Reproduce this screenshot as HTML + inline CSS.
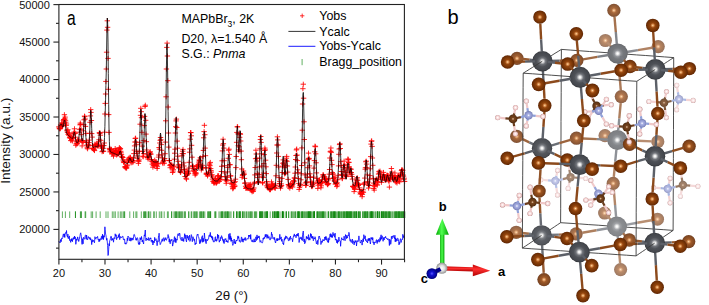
<!DOCTYPE html>
<html><head><meta charset="utf-8"><style>
html,body{margin:0;padding:0;background:#fff;width:709px;height:305px;overflow:hidden}
svg{display:block;font-family:"Liberation Sans",sans-serif}
</style></head><body>
<svg width="709" height="305" viewBox="0 0 709 305">
<rect width="709" height="305" fill="#fff"/>
<g fill="none" stroke-linecap="butt">
<path d="M62.4 211.4v6.6M65.4 211.4v6.6M69.7 211.4v6.6M75.4 211.4v6.6M75.5 211.4v6.6M80.4 211.4v6.6M81 211.4v6.6M81.4 211.4v6.6M85.1 211.4v6.6M85.7 211.4v6.6M91.2 211.4v6.6M92.6 211.4v6.6M96.1 211.4v6.6M100.2 211.4v6.6M106 211.4v6.6M108 211.4v6.6M112.3 211.4v6.6M113.9 211.4v6.6M115.3 211.4v6.6M118.1 211.4v6.6M120.3 211.4v6.6M121.8 211.4v6.6M123.3 211.4v6.6M124.3 211.4v6.6M124.7 211.4v6.6M129.8 211.4v6.6M133.6 211.4v6.6M135.9 211.4v6.6M136.9 211.4v6.6M141.3 211.4v6.6M143.5 211.4v6.6M144.6 211.4v6.6M144.9 211.4v6.6M145.4 211.4v6.6M146.1 211.4v6.6M148.1 211.4v6.6M148.7 211.4v6.6M149 211.4v6.6M150.7 211.4v6.6M153.8 211.4v6.6M154.2 211.4v6.6M156.3 211.4v6.6M159.3 211.4v6.6M161 211.4v6.6M161.8 211.4v6.6M164.2 211.4v6.6M167.4 211.4v6.6M168.3 211.4v6.6M171.5 211.4v6.6M171.8 211.4v6.6M174 211.4v6.6M175 211.4v6.6M175.5 211.4v6.6M176.4 211.4v6.6M176.7 211.4v6.6M177.8 211.4v6.6M178.7 211.4v6.6M179.5 211.4v6.6M180.1 211.4v6.6M180.9 211.4v6.6M181.8 211.4v6.6M182.3 211.4v6.6M184.1 211.4v6.6M184.8 211.4v6.6M185.4 211.4v6.6M188.7 211.4v6.6M188.8 211.4v6.6M191.2 211.4v6.6M191.8 211.4v6.6M193.8 211.4v6.6M194.3 211.4v6.6M195.1 211.4v6.6M195.9 211.4v6.6M196.7 211.4v6.6M197.2 211.4v6.6M199.4 211.4v6.6M200.6 211.4v6.6M201 211.4v6.6M201.4 211.4v6.6M202.3 211.4v6.6M203.3 211.4v6.6M203.6 211.4v6.6M204.8 211.4v6.6M207.7 211.4v6.6M208.2 211.4v6.6M208.7 211.4v6.6M209.6 211.4v6.6M210.2 211.4v6.6M210.3 211.4v6.6M210.7 211.4v6.6M214.7 211.4v6.6M215.7 211.4v6.6M215.8 211.4v6.6M219 211.4v6.6M220.3 211.4v6.6M221.7 211.4v6.6M221.8 211.4v6.6M222 211.4v6.6M222.8 211.4v6.6M223 211.4v6.6M224.5 211.4v6.6M225.9 211.4v6.6M225.9 211.4v6.6M226 211.4v6.6M227.4 211.4v6.6M227.7 211.4v6.6M227.9 211.4v6.6M228.6 211.4v6.6M229.8 211.4v6.6M231 211.4v6.6M233.6 211.4v6.6M233.7 211.4v6.6M236.5 211.4v6.6M236.7 211.4v6.6M237.1 211.4v6.6M238.1 211.4v6.6M239.3 211.4v6.6M239.8 211.4v6.6M239.9 211.4v6.6M240.1 211.4v6.6M240.7 211.4v6.6M242.7 211.4v6.6M242.8 211.4v6.6M242.9 211.4v6.6M244.1 211.4v6.6M245 211.4v6.6M246.4 211.4v6.6M247 211.4v6.6M248.4 211.4v6.6M249.4 211.4v6.6M250.8 211.4v6.6M250.8 211.4v6.6M251.3 211.4v6.6M252.7 211.4v6.6M254.5 211.4v6.6M255.3 211.4v6.6M255.9 211.4v6.6M256.7 211.4v6.6M259.5 211.4v6.6M259.6 211.4v6.6M260.4 211.4v6.6M260.6 211.4v6.6M261 211.4v6.6M261.3 211.4v6.6M261.8 211.4v6.6M262.1 211.4v6.6M262.8 211.4v6.6M262.8 211.4v6.6M264.6 211.4v6.6M265.6 211.4v6.6M266.1 211.4v6.6M266.7 211.4v6.6M266.9 211.4v6.6M267.1 211.4v6.6M267.4 211.4v6.6M267.6 211.4v6.6M270.2 211.4v6.6M272.6 211.4v6.6M272.8 211.4v6.6M273.9 211.4v6.6M274.4 211.4v6.6M274.7 211.4v6.6M275 211.4v6.6M275.3 211.4v6.6M276.3 211.4v6.6M276.8 211.4v6.6M277.2 211.4v6.6M277.2 211.4v6.6M277.6 211.4v6.6M278 211.4v6.6M278.1 211.4v6.6M278.5 211.4v6.6M278.7 211.4v6.6M280 211.4v6.6M282.2 211.4v6.6M282.3 211.4v6.6M282.5 211.4v6.6M282.5 211.4v6.6M282.8 211.4v6.6M283.6 211.4v6.6M283.7 211.4v6.6M285.9 211.4v6.6M286.4 211.4v6.6M286.5 211.4v6.6M288.7 211.4v6.6M288.7 211.4v6.6M291.1 211.4v6.6M291.8 211.4v6.6M292.1 211.4v6.6M293.3 211.4v6.6M294.4 211.4v6.6M295.6 211.4v6.6M295.8 211.4v6.6M297.8 211.4v6.6M297.8 211.4v6.6M298.2 211.4v6.6M298.2 211.4v6.6M298.8 211.4v6.6M298.9 211.4v6.6M299.5 211.4v6.6M300.1 211.4v6.6M301.5 211.4v6.6M301.7 211.4v6.6M302.6 211.4v6.6M302.7 211.4v6.6M303 211.4v6.6M304 211.4v6.6M304.7 211.4v6.6M305.6 211.4v6.6M306.7 211.4v6.6M307.1 211.4v6.6M307.9 211.4v6.6M308.2 211.4v6.6M308.5 211.4v6.6M308.8 211.4v6.6M309.2 211.4v6.6M309.6 211.4v6.6M309.8 211.4v6.6M310.2 211.4v6.6M310.7 211.4v6.6M311 211.4v6.6M311.1 211.4v6.6M312.8 211.4v6.6M313.4 211.4v6.6M314 211.4v6.6M314.1 211.4v6.6M314.3 211.4v6.6M314.4 211.4v6.6M314.5 211.4v6.6M316.8 211.4v6.6M317.2 211.4v6.6M317.6 211.4v6.6M317.9 211.4v6.6M318.6 211.4v6.6M319.8 211.4v6.6M319.9 211.4v6.6M320.3 211.4v6.6M321.4 211.4v6.6M321.9 211.4v6.6M322.4 211.4v6.6M322.5 211.4v6.6M323.7 211.4v6.6M323.7 211.4v6.6M323.8 211.4v6.6M324.9 211.4v6.6M325.9 211.4v6.6M328.1 211.4v6.6M328.3 211.4v6.6M328.6 211.4v6.6M330.3 211.4v6.6M330.9 211.4v6.6M331.4 211.4v6.6M331.7 211.4v6.6M332.9 211.4v6.6M333.2 211.4v6.6M333.2 211.4v6.6M333.3 211.4v6.6M334.6 211.4v6.6M334.6 211.4v6.6M335 211.4v6.6M335.1 211.4v6.6M335.2 211.4v6.6M336.6 211.4v6.6M337.9 211.4v6.6M338.2 211.4v6.6M338.4 211.4v6.6M339.1 211.4v6.6M339.3 211.4v6.6M339.9 211.4v6.6M340.7 211.4v6.6M341.6 211.4v6.6M342 211.4v6.6M343 211.4v6.6M343.4 211.4v6.6M344 211.4v6.6M344.4 211.4v6.6M344.8 211.4v6.6M345.8 211.4v6.6M346.2 211.4v6.6M346.3 211.4v6.6M346.9 211.4v6.6M347.1 211.4v6.6M347.5 211.4v6.6M348.1 211.4v6.6M348.2 211.4v6.6M348.7 211.4v6.6M349.3 211.4v6.6M349.6 211.4v6.6M350 211.4v6.6M350.6 211.4v6.6M350.9 211.4v6.6M351.2 211.4v6.6M351.2 211.4v6.6M351.9 211.4v6.6M353.1 211.4v6.6M353.2 211.4v6.6M354.3 211.4v6.6M354.8 211.4v6.6M354.9 211.4v6.6M356 211.4v6.6M356.2 211.4v6.6M356.3 211.4v6.6M356.4 211.4v6.6M357.9 211.4v6.6M358.6 211.4v6.6M358.6 211.4v6.6M359.4 211.4v6.6M359.8 211.4v6.6M360.5 211.4v6.6M362.8 211.4v6.6M363 211.4v6.6M363.1 211.4v6.6M364.6 211.4v6.6M364.8 211.4v6.6M365.2 211.4v6.6M365.3 211.4v6.6M366 211.4v6.6M366.9 211.4v6.6M367.1 211.4v6.6M367.2 211.4v6.6M367.7 211.4v6.6M368.9 211.4v6.6M369.8 211.4v6.6M370.5 211.4v6.6M371 211.4v6.6M371 211.4v6.6M371.5 211.4v6.6M371.9 211.4v6.6M371.9 211.4v6.6M372 211.4v6.6M372.8 211.4v6.6M372.9 211.4v6.6M373.9 211.4v6.6M375.2 211.4v6.6M375.9 211.4v6.6M377.2 211.4v6.6M377.6 211.4v6.6M377.6 211.4v6.6M377.8 211.4v6.6M378.1 211.4v6.6M379.5 211.4v6.6M379.5 211.4v6.6M381.1 211.4v6.6M381.5 211.4v6.6M381.6 211.4v6.6M382 211.4v6.6M382.8 211.4v6.6M383.1 211.4v6.6M383.2 211.4v6.6M383.2 211.4v6.6M384.1 211.4v6.6M384.8 211.4v6.6M385.2 211.4v6.6M385.4 211.4v6.6M386.2 211.4v6.6M386.6 211.4v6.6M387 211.4v6.6M387.8 211.4v6.6M388.4 211.4v6.6M389 211.4v6.6M389.2 211.4v6.6M389.4 211.4v6.6M390.1 211.4v6.6M390.6 211.4v6.6M392 211.4v6.6M392.2 211.4v6.6M394 211.4v6.6M394.2 211.4v6.6M395 211.4v6.6M395.6 211.4v6.6M396 211.4v6.6M396.2 211.4v6.6M396.9 211.4v6.6M397.2 211.4v6.6M397.2 211.4v6.6M398.7 211.4v6.6M398.8 211.4v6.6M398.9 211.4v6.6M399 211.4v6.6M399.4 211.4v6.6M400 211.4v6.6M400.6 211.4v6.6M401.3 211.4v6.6M401.7 211.4v6.6M402.2 211.4v6.6M402.9 211.4v6.6M402.9 211.4v6.6M403.5 211.4v6.6M404 211.4v6.6M404.2 211.4v6.6M404.9 211.4v6.6" stroke="#008000" stroke-width="1" stroke-opacity="0.62"/>
<path d="M58.9 241 59.2 241.9 59.6 242.6 59.9 242.1 60.3 242.6 60.6 239.5 61 241.3 61.3 241.7 61.7 238 62 238.1 62.4 238.6 62.7 237.7 63 235.2 63.4 233.9 63.7 234.9 64.1 237.1 64.4 233.8 64.8 237.5 65.1 233.6 65.5 233.6 65.8 232.4 66.2 233.3 66.5 230.5 66.9 235.7 67.2 236.2 67.5 237.2 67.9 234.1 68.2 238.4 68.6 237.5 68.9 238.6 69.3 235.9 69.6 240.5 70 239.6 70.3 240.3 70.7 242.4 71 239.5 71.3 238.9 71.7 240.9 72 238.4 72.4 241.7 72.7 239.7 73.1 239.5 73.4 237.5 73.8 239.3 74.1 239 74.5 236 74.8 238.8 75.1 236.9 75.5 238.3 75.8 244.3 76.2 241.5 76.5 238.9 76.9 240.4 77.2 239.9 77.6 236.9 77.9 238.7 78.3 239.1 78.6 241.4 78.9 241.4 79.3 237.7 79.6 238.3 80 235.8 80.3 233.9 80.7 232.8 81 234.3 81.4 236.7 81.7 240.9 82.1 244.4 82.4 238.7 82.8 240.9 83.1 243.8 83.4 237.2 83.8 237.7 84.1 239.2 84.5 239.1 84.8 238.5 85.2 235.4 85.5 235.2 85.9 235.2 86.2 239.3 86.6 235 86.9 237.6 87.2 239.5 87.6 240 87.9 238.2 88.3 236.5 88.6 237.4 89 237 89.3 238.8 89.7 239.1 90 237.4 90.4 239.9 90.7 238.5 91 239.9 91.4 240.9 91.7 244.6 92.1 239.5 92.4 242.1 92.8 241.7 93.1 240 93.5 240.9 93.8 241.1 94.2 242 94.5 242.8 94.9 236.7 95.2 237.5 95.5 238.6 95.9 239.2 96.2 237.2 96.6 237.6 96.9 237.6 97.3 237.5 97.6 236.4 98 239.3 98.3 240 98.7 239.4 99 241.8 99.3 238.9 99.7 241.2 100 240.2 100.4 238.7 100.7 238.8 101.1 239.7 101.4 236.3 101.8 236.5 102.1 239.3 102.5 234.2 102.8 238.3 103.1 235.9 103.5 239.6 103.8 235.6 104.2 237.2 104.5 233.9 104.9 226.8 105.2 229.7 105.6 234.1 105.9 235.1 106.3 237.9 106.6 240.2 106.9 238.3 107.3 242 107.6 245.4 108 255.5 108.3 255 108.7 249.1 109 243.6 109.4 245.9 109.7 240.6 110.1 240.2 110.4 238.6 110.8 236.3 111.1 236.3 111.4 236.5 111.8 240.6 112.1 239.1 112.5 240 112.8 238.2 113.2 239.4 113.5 242.2 113.9 238.8 114.2 237.5 114.6 238.4 114.9 238.8 115.2 233.8 115.6 236.3 115.9 235.4 116.3 234.8 116.6 239.7 117 238.4 117.3 238 117.7 237.4 118 238 118.4 235.3 118.7 237 119 233.9 119.4 233.7 119.7 239.6 120.1 237.4 120.4 236.5 120.8 237.9 121.1 237.5 121.5 237.2 121.8 237.6 122.2 236.7 122.5 236.2 122.8 236 123.2 238.1 123.5 239.7 123.9 240.1 124.2 239 124.6 239 124.9 243.6 125.3 244.1 125.6 242.8 126 244.2 126.3 243.6 126.7 243.3 127 241.2 127.3 237.9 127.7 240.7 128 236.1 128.4 237.1 128.7 236.9 129.1 237.3 129.4 240.2 129.8 240.9 130.1 238.2 130.5 238 130.8 241.2 131.1 237.8 131.5 238.3 131.8 240.3 132.2 238.1 132.5 238.1 132.9 240.1 133.2 239.2 133.6 236.9 133.9 234.6 134.3 234.4 134.6 235 134.9 236.5 135.3 237.2 135.6 238.3 136 240.2 136.3 238.5 136.7 240.3 137 237.8 137.4 237.7 137.7 238.6 138.1 240.5 138.4 243.7 138.8 243.1 139.1 244.9 139.4 242.4 139.8 243.9 140.1 237.6 140.5 239.6 140.8 238.3 141.2 239.5 141.5 236.5 141.9 239.1 142.2 242 142.6 240 142.9 241.5 143.2 242.7 143.6 244 143.9 239.3 144.3 234.9 144.6 236.1 145 232.2 145.3 230 145.7 237.7 146 240.8 146.4 238.2 146.7 239 147 238.8 147.4 239.8 147.7 238.9 148.1 240.2 148.4 237.5 148.8 238.8 149.1 240.7 149.5 239.3 149.8 238.5 150.2 237.8 150.5 239 150.8 237.9 151.2 241.5 151.5 240.1 151.9 240.6 152.2 242.6 152.6 240.2 152.9 245 153.3 242.7 153.6 241.1 154 242.9 154.3 242.6 154.7 237.4 155 240.8 155.3 240 155.7 239.6 156 238.7 156.4 240.9 156.7 242.6 157.1 245.7 157.4 243.9 157.8 240.7 158.1 241.7 158.5 236.1 158.8 236.4 159.1 233.2 159.5 241.1 159.8 241.8 160.2 244.6 160.5 243.7 160.9 243.5 161.2 242.3 161.6 241.1 161.9 239.8 162.3 238.8 162.6 241.2 162.9 241.3 163.3 238.7 163.6 237.9 164 237.5 164.3 241.3 164.7 238.8 165 239.6 165.4 239.4 165.7 237.6 166.1 240.1 166.4 240.3 166.8 238.9 167.1 238.6 167.4 237.7 167.8 236.5 168.1 234.5 168.5 237.5 168.8 236.7 169.2 242.1 169.5 238.8 169.9 242.1 170.2 243.8 170.6 240.6 170.9 239.7 171.2 240.8 171.6 240 171.9 239.2 172.3 242.2 172.6 246.1 173 244.4 173.3 242.8 173.7 240.2 174 240.6 174.4 236.7 174.7 236.7 175 242.2 175.4 237.9 175.7 242.5 176.1 242.7 176.4 239.3 176.8 239 177.1 240.2 177.5 235.2 177.8 234.1 178.2 233.6 178.5 234.1 178.8 235.8 179.2 234.7 179.5 233 179.9 233.9 180.2 238 180.6 239.2 180.9 239.3 181.3 240.6 181.6 240.2 182 237.1 182.3 240.4 182.7 241.1 183 238.8 183.3 238.7 183.7 241.5 184 238.2 184.4 236.3 184.7 233.7 185.1 238.7 185.4 235.2 185.8 235.2 186.1 240.7 186.5 241.9 186.8 238.4 187.1 235 187.5 238.2 187.8 236.6 188.2 236.2 188.5 240.2 188.9 237.9 189.2 237.3 189.6 235.2 189.9 241.4 190.3 240.4 190.6 238.4 190.9 237.7 191.3 234.6 191.6 235.5 192 239.1 192.3 241.7 192.7 238.2 193 236.7 193.4 238.1 193.7 239.4 194.1 240.6 194.4 238.9 194.8 242.3 195.1 244.8 195.4 244 195.8 242.9 196.1 243.9 196.5 238 196.8 236.1 197.2 234.6 197.5 235.1 197.9 234 198.2 236.3 198.6 236.9 198.9 238 199.2 239.5 199.6 243.2 199.9 243.9 200.3 239.5 200.6 242.6 201 241 201.3 241.1 201.7 237 202 236.6 202.4 235.7 202.7 242.3 203 238.4 203.4 241.7 203.7 238.5 204.1 238.6 204.4 233 204.8 237.1 205.1 241.3 205.5 239 205.8 243.1 206.2 243.7 206.5 239.8 206.8 239.3 207.2 239.2 207.5 240.7 207.9 239.9 208.2 239.2 208.6 238.9 208.9 235.9 209.3 234.8 209.6 234.9 210 236.8 210.3 232.4 210.7 236.6 211 236.3 211.3 235.8 211.7 238.1 212 236 212.4 239.8 212.7 237.3 213.1 241.2 213.4 240.7 213.8 242.1 214.1 242.1 214.5 240.7 214.8 240.6 215.1 237.3 215.5 236.7 215.8 241.1 216.2 239.1 216.5 241.3 216.9 240.6 217.2 239.7 217.6 234.2 217.9 238.3 218.3 235.8 218.6 235 218.9 238.9 219.3 242.2 219.6 240.7 220 240.3 220.3 240.9 220.7 237.4 221 238.6 221.4 235.8 221.7 235.7 222.1 238.1 222.4 237.7 222.7 240.4 223.1 239.1 223.4 242.4 223.8 240.3 224.1 243.6 224.5 239.4 224.8 239.5 225.2 238.6 225.5 239.6 225.9 238.7 226.2 242 226.6 240.3 226.9 241 227.2 241.6 227.6 241 227.9 242.6 228.3 239.5 228.6 234.9 229 233.9 229.3 235.3 229.7 239.6 230 233.3 230.4 239.4 230.7 236.1 231 241.4 231.4 237.8 231.7 241.1 232.1 240 232.4 243.4 232.8 245.4 233.1 244.7 233.5 243.6 233.8 241 234.2 239 234.5 243.2 234.8 243.5 235.2 241.7 235.5 244 235.9 240.6 236.2 241.1 236.6 240 236.9 240.8 237.3 239.9 237.6 237.2 238 235.9 238.3 238.3 238.7 236.7 239 239 239.3 241.3 239.7 240.3 240 242.1 240.4 242.3 240.7 241.5 241.1 240.1 241.4 236.9 241.8 237.6 242.1 241.6 242.5 238.8 242.8 240.6 243.1 242.2 243.5 239.2 243.8 240 244.2 238.4 244.5 238.8 244.9 240.3 245.2 237.4 245.6 239.2 245.9 240.5 246.3 239.4 246.6 239.1 246.9 238.5 247.3 238.8 247.6 238.6 248 239.2 248.3 238.7 248.7 235 249 236.5 249.4 236.5 249.7 235 250.1 236.1 250.4 239 250.7 234.5 251.1 240.3 251.4 240.5 251.8 240.5 252.1 242 252.5 240.6 252.8 239.8 253.2 242.2 253.5 241.4 253.9 240.7 254.2 238.8 254.6 242.1 254.9 241.4 255.2 242 255.6 240.8 255.9 236.8 256.3 240.5 256.6 240 257 234.9 257.3 239.4 257.7 236.9 258 237.7 258.4 236.5 258.7 237.7 259 235.9 259.4 237.1 259.7 239.8 260.1 242.3 260.4 241.5 260.8 240.5 261.1 241.3 261.5 242.5 261.8 242.8 262.2 242.9 262.5 242.8 262.8 241.4 263.2 238 263.5 239.3 263.9 238 264.2 237.2 264.6 238.5 264.9 237 265.3 234.4 265.6 237 266 235 266.3 234.3 266.7 237.2 267 238.4 267.3 238.1 267.7 234.7 268 238 268.4 238.1 268.7 236.6 269.1 236.5 269.4 239.4 269.8 239.9 270.1 239.9 270.5 239.8 270.8 237.7 271.1 238.5 271.5 232.2 271.8 235.1 272.2 234.4 272.5 235.9 272.9 238.6 273.2 237.8 273.6 237.7 273.9 238.8 274.3 239.7 274.6 237.4 274.9 240.6 275.3 242.3 275.6 243 276 240.3 276.3 239.4 276.7 238.6 277 240.9 277.4 238.5 277.7 240.8 278.1 238.8 278.4 239.3 278.7 238.7 279.1 240.1 279.4 239.9 279.8 234.3 280.1 237.7 280.5 239.2 280.8 238 281.2 236.9 281.5 241.3 281.9 239.1 282.2 239.6 282.6 240.4 282.9 243.6 283.2 243 283.6 244.8 283.9 242 284.3 238.8 284.6 240.2 285 237.4 285.3 239.1 285.7 235.9 286 236.1 286.4 237.5 286.7 236.5 287 238.5 287.4 237.8 287.7 237.7 288.1 239.5 288.4 240.7 288.8 240.8 289.1 238.1 289.5 237.6 289.8 240.3 290.2 237.8 290.5 236.1 290.8 238.8 291.2 238.7 291.5 238.6 291.9 238.8 292.2 238.8 292.6 241.8 292.9 239.1 293.3 237.1 293.6 235.7 294 236.4 294.3 233.9 294.7 236.1 295 235.5 295.3 235.6 295.7 235.4 296 237.8 296.4 235.8 296.7 234.2 297.1 235.7 297.4 234.2 297.8 236.1 298.1 233 298.5 234.8 298.8 237.5 299.1 242.5 299.5 240.1 299.8 237.6 300.2 238.8 300.5 238.5 300.9 236.9 301.2 237 301.6 239.6 301.9 238.3 302.3 240.6 302.6 234.2 302.9 232.7 303.3 231 303.6 235.9 304 241.9 304.3 239 304.7 243.8 305 242.5 305.4 242.5 305.7 240.9 306.1 239.1 306.4 236.3 306.7 238.3 307.1 237 307.4 238.8 307.8 238.9 308.1 236.6 308.5 234.6 308.8 240.2 309.2 237.6 309.5 238.8 309.9 240.1 310.2 237.6 310.6 233.5 310.9 236.5 311.2 234.2 311.6 238.1 311.9 238.2 312.3 236.3 312.6 238.4 313 236.5 313.3 240.8 313.7 239.6 314 237.9 314.4 238.9 314.7 237.8 315 236.7 315.4 237.3 315.7 240 316.1 241.7 316.4 243.9 316.8 242.8 317.1 240.9 317.5 240.4 317.8 244.6 318.2 241 318.5 238.7 318.8 236.3 319.2 236.7 319.5 236.1 319.9 238.9 320.2 238.6 320.6 240.5 320.9 244.5 321.3 243.1 321.6 241.1 322 241.2 322.3 242.4 322.7 240 323 239.3 323.3 240 323.7 241 324 240.6 324.4 240.6 324.7 237.1 325.1 238.3 325.4 236.7 325.8 239.9 326.1 236.5 326.5 239.5 326.8 239 327.1 241 327.5 241.6 327.8 242.3 328.2 237.8 328.5 242.5 328.9 239.5 329.2 239 329.6 239.5 329.9 234.2 330.3 233.8 330.6 236.8 330.9 233.8 331.3 234.9 331.6 237.3 332 235.2 332.3 237.6 332.7 235.3 333 232.4 333.4 235.5 333.7 235.2 334.1 234.1 334.4 237 334.7 237.3 335.1 233.1 335.4 240.2 335.8 239.1 336.1 239.4 336.5 239.3 336.8 242.8 337.2 239.8 337.5 243.4 337.9 241.2 338.2 242 338.6 240 338.9 237.1 339.2 240 339.6 240.8 339.9 240.6 340.3 240.9 340.6 246.3 341 241.4 341.3 239.7 341.7 237.7 342 239 342.4 240 342.7 239.3 343 239.3 343.4 239.4 343.7 240.3 344.1 236.2 344.4 238.4 344.8 238.7 345.1 240.7 345.5 234.6 345.8 236.1 346.2 235.2 346.5 238.6 346.8 236.4 347.2 237.7 347.5 238.1 347.9 235 348.2 235.1 348.6 235.7 348.9 232.3 349.3 234 349.6 237.9 350 240.9 350.3 241.4 350.6 239.5 351 240.5 351.3 242.5 351.7 241.5 352 240.1 352.4 239 352.7 243.6 353.1 241.5 353.4 240.9 353.8 240.9 354.1 244.9 354.5 242 354.8 243 355.1 240.6 355.5 241.9 355.8 240.7 356.2 241.1 356.5 246 356.9 242.3 357.2 240.5 357.6 241.4 357.9 241.9 358.3 241.2 358.6 237.9 358.9 235.9 359.3 238.3 359.6 239.3 360 241.5 360.3 243.1 360.7 242.1 361 241.6 361.4 240 361.7 241.6 362.1 245.1 362.4 242.9 362.7 240.5 363.1 238.7 363.4 241.7 363.8 234.7 364.1 236.2 364.5 238.6 364.8 238.7 365.2 235.8 365.5 240.5 365.9 239.2 366.2 240.3 366.6 241.6 366.9 240.7 367.2 241.9 367.6 242.9 367.9 238.9 368.3 238.7 368.6 240.7 369 238.2 369.3 240.5 369.7 238.4 370 241.8 370.4 244 370.7 241.6 371 237.5 371.4 239.1 371.7 237.9 372.1 237.4 372.4 240 372.8 237.7 373.1 242.8 373.5 241.9 373.8 244.3 374.2 244.9 374.5 242 374.8 242.2 375.2 242.8 375.5 242.1 375.9 242.1 376.2 240.1 376.6 239.6 376.9 243.3 377.3 243.4 377.6 240.3 378 241.8 378.3 241.1 378.6 239.5 379 239.3 379.3 242.2 379.7 241.7 380 237.6 380.4 240.5 380.7 236.8 381.1 234.8 381.4 239.3 381.8 236.8 382.1 235.8 382.5 236.5 382.8 239.2 383.1 241.3 383.5 237.6 383.8 239.2 384.2 240 384.5 237.7 384.9 237.1 385.2 238.1 385.6 236.4 385.9 237.5 386.3 238.1 386.6 238.7 386.9 238.3 387.3 239.2 387.6 239.6 388 238.6 388.3 240.1 388.7 240.1 389 240.3 389.4 245.5 389.7 239 390.1 240.7 390.4 240.4 390.7 244.3 391.1 242.2 391.4 236.3 391.8 238 392.1 238.8 392.5 236.2 392.8 236.8 393.2 235.4 393.5 235.7 393.9 237.4 394.2 237 394.6 238.7 394.9 235.2 395.2 241.7 395.6 237.9 395.9 241.7 396.3 239.1 396.6 239.1 397 241 397.3 238.2 397.7 238.2 398 238.5 398.4 239.8 398.7 241.8 399 244.9 399.4 242.5 399.7 243.7 400.1 240.4 400.4 238.8 400.8 238.7 401.1 242.5 401.5 240.4 401.8 239.8 402.2 239.1 402.5 239.5 402.8 234.3 403.2 236.5 403.5 235.8 403.9 238.1 404.2 235.9 404.6 239" stroke="#0000ff" stroke-width="0.8"/>
<path d="M56.2 126.8h5.4M58.9 124.3v5M56.5 128h5.4M59.2 125.5v5M56.9 128.9h5.4M59.6 126.4v5M57.2 128.5h5.4M59.9 126v5M57.6 128.7h5.4M60.3 126.2v5M57.9 125.1h5.4M60.6 122.6v5M58.3 126.2h5.4M61 123.7v5M58.6 126.4h5.4M61.3 123.9v5M59 123h5.4M61.7 120.5v5M59.3 124.1h5.4M62 121.6v5M59.7 125.8h5.4M62.4 123.3v5M60 125.8h5.4M62.7 123.3v5M60.3 123.3h5.4M63 120.8v5M60.7 120.7h5.4M63.4 118.2v5M61 119.6h5.4M63.7 117.1v5M61.4 119.4h5.4M64.1 116.9v5M61.7 114.7h5.4M64.4 112.2v5M62.1 118.8h5.4M64.8 116.3v5M62.4 117.1h5.4M65.1 114.6v5M62.8 120.3h5.4M65.5 117.8v5M63.1 122.2h5.4M65.8 119.7v5M63.5 125.4h5.4M66.2 122.9v5M63.8 124h5.4M66.5 121.5v5M64.2 130.1h5.4M66.9 127.6v5M64.5 131h5.4M67.2 128.5v5M64.8 132.5h5.4M67.5 130v5M65.2 129.8h5.4M67.9 127.3v5M65.5 134.4h5.4M68.2 131.9v5M65.9 133.8h5.4M68.6 131.3v5M66.2 135.3h5.4M68.9 132.8v5M66.6 132.9h5.4M69.3 130.4v5M66.9 137.7h5.4M69.6 135.2v5M67.3 137.1h5.4M70 134.6v5M67.6 138.1h5.4M70.3 135.6v5M68 140.6h5.4M70.7 138.1v5M68.3 137.9h5.4M71 135.4v5M68.6 137.6h5.4M71.3 135.1v5M69 140h5.4M71.7 137.5v5M69.3 137.7h5.4M72 135.2v5M69.7 141h5.4M72.4 138.5v5M70 138.6h5.4M72.7 136.1v5M70.4 137.6h5.4M73.1 135.1v5M70.7 134h5.4M73.4 131.5v5M71.1 133.9h5.4M73.8 131.4v5M71.4 132.1h5.4M74.1 129.6v5M71.8 128.8h5.4M74.5 126.3v5M72.1 133h5.4M74.8 130.5v5M72.4 133.4h5.4M75.1 130.9v5M72.8 137.2h5.4M75.5 134.7v5M73.1 145.3h5.4M75.8 142.8v5M73.5 143.8h5.4M76.2 141.3v5M73.8 142h5.4M76.5 139.5v5M74.2 144h5.4M76.9 141.5v5M74.5 143.6h5.4M77.2 141.1v5M74.9 140.3h5.4M77.6 137.8v5M75.2 141.7h5.4M77.9 139.2v5M75.6 141.3h5.4M78.3 138.8v5M75.9 142h5.4M78.6 139.5v5M76.2 139.3h5.4M78.9 136.8v5M76.6 132.2h5.4M79.3 129.7v5M76.9 129.3h5.4M79.6 126.8v5M77.3 124.8h5.4M80 122.3v5M77.6 123.1h5.4M80.3 120.6v5M78 124.4h5.4M80.7 121.9v5M78.3 129.1h5.4M81 126.6v5M78.7 134.6h5.4M81.4 132.1v5M79 141h5.4M81.7 138.5v5M79.4 145.9h5.4M82.1 143.4v5M79.7 140.5h5.4M82.4 138v5M80.1 141.9h5.4M82.8 139.4v5M80.4 142.2h5.4M83.1 139.7v5M80.7 130.8h5.4M83.4 128.3v5M81.1 124.7h5.4M83.8 122.2v5M81.4 119.8h5.4M84.1 117.3v5M81.8 116.1h5.4M84.5 113.6v5M82.1 116.7h5.4M84.8 114.2v5M82.5 119h5.4M85.2 116.5v5M82.8 126.4h5.4M85.5 123.9v5M83.2 133.4h5.4M85.9 130.9v5M83.5 142.5h5.4M86.2 140v5M83.9 141h5.4M86.6 138.5v5M84.2 145.2h5.4M86.9 142.7v5M84.5 147.9h5.4M87.2 145.4v5M84.9 148.8h5.4M87.6 146.3v5M85.2 146.9h5.4M87.9 144.4v5M85.6 145h5.4M88.3 142.5v5M85.9 145.1h5.4M88.6 142.6v5M86.3 142.6h5.4M89 140.1v5M86.6 140.1h5.4M89.3 137.6v5M87 133.3h5.4M89.7 130.8v5M87.3 122.3h5.4M90 119.8v5M87.7 115.9h5.4M90.4 113.4v5M88 109.6h5.4M90.7 107.1v5M88.3 112.4h5.4M91 109.9v5M88.7 120.5h5.4M91.4 118v5M89 133.6h5.4M91.7 131.1v5M89.4 137.1h5.4M92.1 134.6v5M89.7 145.6h5.4M92.4 143.1v5M90.1 148.5h5.4M92.8 146v5M90.4 148.1h5.4M93.1 145.6v5M90.8 149.2h5.4M93.5 146.7v5M91.1 149.3h5.4M93.8 146.8v5M91.5 150h5.4M94.2 147.5v5M91.8 150.6h5.4M94.5 148.1v5M92.2 144.2h5.4M94.9 141.7v5M92.5 144.8h5.4M95.2 142.3v5M92.8 145.8h5.4M95.5 143.3v5M93.2 146.1h5.4M95.9 143.6v5M93.5 144.2h5.4M96.2 141.7v5M93.9 145h5.4M96.6 142.5v5M94.2 145.3h5.4M96.9 142.8v5M94.6 145.4h5.4M97.3 142.9v5M94.9 144.2h5.4M97.6 141.7v5M95.3 146.5h5.4M98 144v5M95.6 145.5h5.4M98.3 143v5M96 141.7h5.4M98.7 139.2v5M96.3 139.8h5.4M99 137.3v5M96.6 132.9h5.4M99.3 130.4v5M97 133.1h5.4M99.7 130.6v5M97.3 133h5.4M100 130.5v5M97.7 135.2h5.4M100.4 132.7v5M98 140.3h5.4M100.7 137.8v5M98.4 145.8h5.4M101.1 143.3v5M98.7 145.7h5.4M101.4 143.2v5M99.1 148h5.4M101.8 145.5v5M99.4 151.7h5.4M102.1 149.2v5M99.8 146.9h5.4M102.5 144.4v5M100.1 151h5.4M102.8 148.5v5M100.4 148.4h5.4M103.1 145.9v5M100.8 151.4h5.4M103.5 148.9v5M101.1 145.5h5.4M103.8 143v5M101.5 143h5.4M104.2 140.5v5M101.8 132.2h5.4M104.5 129.7v5M102.2 114h5.4M104.9 111.5v5M102.5 103.4h5.4M105.2 100.9v5M102.9 94h5.4M105.6 91.5v5M103.2 81.4h5.4M105.9 78.9v5M103.6 69h5.4M106.3 66.5v5M103.9 52.2h5.4M106.6 49.7v5M104.2 30.1h5.4M106.9 27.6v5M104.6 20.8h5.4M107.3 18.3v5M104.9 27.3h5.4M107.6 24.8v5M105.3 58.4h5.4M108 55.9v5M105.6 89.3h5.4M108.3 86.8v5M106 114.6h5.4M108.7 112.1v5M106.3 132.4h5.4M109 129.9v5M106.7 148.4h5.4M109.4 145.9v5M107 149.7h5.4M109.7 147.2v5M107.4 151.9h5.4M110.1 149.4v5M107.7 151.1h5.4M110.4 148.6v5M108.1 149.1h5.4M110.8 146.6v5M108.4 149.3h5.4M111.1 146.8v5M108.7 149.7h5.4M111.4 147.2v5M109.1 153.9h5.4M111.8 151.4v5M109.4 152.6h5.4M112.1 150.1v5M109.8 153.6h5.4M112.5 151.1v5M110.1 151.9h5.4M112.8 149.4v5M110.5 153.3h5.4M113.2 150.8v5M110.8 156.2h5.4M113.5 153.7v5M111.2 152.9h5.4M113.9 150.4v5M111.5 151.8h5.4M114.2 149.3v5M111.9 152.8h5.4M114.6 150.3v5M112.2 153.4h5.4M114.9 150.9v5M112.5 148.5h5.4M115.2 146v5M112.9 151.2h5.4M115.6 148.7v5M113.2 150.5h5.4M115.9 148v5M113.6 150h5.4M116.3 147.5v5M113.9 155h5.4M116.6 152.5v5M114.3 154h5.4M117 151.5v5M114.6 153.7h5.4M117.3 151.2v5M115 153.3h5.4M117.7 150.8v5M115.3 154.2h5.4M118 151.7v5M115.7 151.5h5.4M118.4 149v5M116 152.9h5.4M118.7 150.4v5M116.3 149.1h5.4M119 146.6v5M116.7 147.6h5.4M119.4 145.1v5M117 152.2h5.4M119.7 149.7v5M117.4 149.2h5.4M120.1 146.7v5M117.7 148.5h5.4M120.4 146v5M118.1 151.3h5.4M120.8 148.8v5M118.4 152.9h5.4M121.1 150.4v5M118.8 154.6h5.4M121.5 152.1v5M119.1 156.7h5.4M121.8 154.2v5M119.5 157h5.4M122.2 154.5v5M119.8 157.3h5.4M122.5 154.8v5M120.1 157.6h5.4M122.8 155.1v5M120.5 160.1h5.4M123.2 157.6v5M120.8 161.9h5.4M123.5 159.4v5M121.2 162.6h5.4M123.9 160.1v5M121.5 161.7h5.4M124.2 159.2v5M121.9 162h5.4M124.6 159.5v5M122.2 166.8h5.4M124.9 164.3v5M122.6 167.6h5.4M125.3 165.1v5M122.9 166.5h5.4M125.6 164v5M123.3 168.2h5.4M126 165.7v5M123.6 167.8h5.4M126.3 165.3v5M124 167.9h5.4M126.7 165.4v5M124.3 165.9h5.4M127 163.4v5M124.6 162.5h5.4M127.3 160v5M125 165h5.4M127.7 162.5v5M125.3 159.9h5.4M128 157.4v5M125.7 160.1h5.4M128.4 157.6v5M126 158.9h5.4M128.7 156.4v5M126.4 157.9h5.4M129.1 155.4v5M126.7 159.7h5.4M129.4 157.2v5M127.1 159.7h5.4M129.8 157.2v5M127.4 157.2h5.4M130.1 154.7v5M127.8 157.7h5.4M130.5 155.2v5M128.1 162h5.4M130.8 159.5v5M128.4 159.6h5.4M131.1 157.1v5M128.8 160.6h5.4M131.5 158.1v5M129.1 162.8h5.4M131.8 160.3v5M129.5 160.7h5.4M132.2 158.2v5M129.8 160.6h5.4M132.5 158.1v5M130.2 162.4h5.4M132.9 159.9v5M130.5 161.1h5.4M133.2 158.6v5M130.9 157.8h5.4M133.6 155.3v5M131.2 153.6h5.4M133.9 151.1v5M131.6 150.1h5.4M134.3 147.6v5M131.9 145.9h5.4M134.6 143.4v5M132.2 142h5.4M134.9 139.5v5M132.6 138.4h5.4M135.3 135.9v5M132.9 138.2h5.4M135.6 135.7v5M133.3 142h5.4M136 139.5v5M133.6 144.7h5.4M136.3 142.2v5M134 151.6h5.4M136.7 149.1v5M134.3 153.3h5.4M137 150.8v5M134.7 156h5.4M137.4 153.5v5M135 158.2h5.4M137.7 155.7v5M135.4 160.6h5.4M138.1 158.1v5M135.7 163.4h5.4M138.4 160.9v5M136.1 161.4h5.4M138.8 158.9v5M136.4 159.9h5.4M139.1 157.4v5M136.7 151.1h5.4M139.4 148.6v5M137.1 142.7h5.4M139.8 140.2v5M137.4 124.2h5.4M140.1 121.7v5M137.8 115.3h5.4M140.5 112.8v5M138.1 108.3h5.4M140.8 105.8v5M138.5 111.7h5.4M141.2 109.2v5M138.8 117.7h5.4M141.5 115.2v5M139.2 132.3h5.4M141.9 129.8v5M139.5 146.1h5.4M142.2 143.6v5M139.9 151.5h5.4M142.6 149v5M140.2 156.2h5.4M142.9 153.7v5M140.5 156.8h5.4M143.2 154.3v5M140.9 153.6h5.4M143.6 151.1v5M141.2 140.6h5.4M143.9 138.1v5M141.6 125.6h5.4M144.3 123.1v5M141.9 116.4h5.4M144.6 113.9v5M142.3 106.5h5.4M145 104v5M142.6 105.2h5.4M145.3 102.7v5M143 120.3h5.4M145.7 117.8v5M143.3 134.1h5.4M146 131.6v5M143.7 141.7h5.4M146.4 139.2v5M144 150h5.4M146.7 147.5v5M144.3 154.2h5.4M147 151.7v5M144.7 157.6h5.4M147.4 155.1v5M145 157.6h5.4M147.7 155.1v5M145.4 159.1h5.4M148.1 156.6v5M145.7 156.1h5.4M148.4 153.6v5M146.1 156.6h5.4M148.8 154.1v5M146.4 157.2h5.4M149.1 154.7v5M146.8 154.3h5.4M149.5 151.8v5M147.1 152.5h5.4M149.8 150v5M147.5 151.7h5.4M150.2 149.2v5M147.8 153.8h5.4M150.5 151.3v5M148.1 154.2h5.4M150.8 151.7v5M148.5 159.7h5.4M151.2 157.2v5M148.8 159.9h5.4M151.5 157.4v5M149.2 161.4h5.4M151.9 158.9v5M149.5 164.1h5.4M152.2 161.6v5M149.9 162h5.4M152.6 159.5v5M150.2 167.2h5.4M152.9 164.7v5M150.6 165h5.4M153.3 162.5v5M150.9 163.6h5.4M153.6 161.1v5M151.3 165.7h5.4M154 163.2v5M151.6 165.4h5.4M154.3 162.9v5M152 160.2h5.4M154.7 157.7v5M152.3 163.6h5.4M155 161.1v5M152.6 162.8h5.4M155.3 160.3v5M153 162.4h5.4M155.7 159.9v5M153.3 161.5h5.4M156 159v5M153.7 163.7h5.4M156.4 161.2v5M154 165.4h5.4M156.7 162.9v5M154.4 168.5h5.4M157.1 166v5M154.7 166.7h5.4M157.4 164.2v5M155.1 163.3h5.4M157.8 160.8v5M155.4 163.9h5.4M158.1 161.4v5M155.8 157.1h5.4M158.5 154.6v5M156.1 155h5.4M158.8 152.5v5M156.4 147.5h5.4M159.1 145v5M156.8 149.2h5.4M159.5 146.7v5M157.1 143h5.4M159.8 140.5v5M157.5 140.3h5.4M160.2 137.8v5M157.8 137.5h5.4M160.5 135v5M158.2 139.8h5.4M160.9 137.3v5M158.5 144.6h5.4M161.2 142.1v5M158.9 150.3h5.4M161.6 147.8v5M159.2 154.9h5.4M161.9 152.4v5M159.6 157.9h5.4M162.3 155.4v5M159.9 162.4h5.4M162.6 159.9v5M160.2 163.6h5.4M162.9 161.1v5M160.6 161.3h5.4M163.3 158.8v5M160.9 160.7h5.4M163.6 158.2v5M161.3 160.1h5.4M164 157.6v5M161.6 163.2h5.4M164.3 160.7v5M162 158.5h5.4M164.7 156v5M162.3 153.7h5.4M165 151.2v5M162.7 142.1h5.4M165.4 139.6v5M163 120.8h5.4M165.7 118.3v5M163.4 96.8h5.4M166.1 94.3v5M163.7 69h5.4M166.4 66.5v5M164.1 47.4h5.4M166.8 44.9v5M164.4 43.1h5.4M167.1 40.6v5M164.7 56h5.4M167.4 53.5v5M165.1 80.7h5.4M167.8 78.2v5M165.4 107h5.4M168.1 104.5v5M165.8 133h5.4M168.5 130.5v5M166.1 147.1h5.4M168.8 144.6v5M166.5 160.5h5.4M169.2 158v5M166.8 160.7h5.4M169.5 158.2v5M167.2 165.3h5.4M169.9 162.8v5M167.5 167.7h5.4M170.2 165.2v5M167.9 165h5.4M170.6 162.5v5M168.2 164.4h5.4M170.9 161.9v5M168.5 165.9h5.4M171.2 163.4v5M168.9 165.4h5.4M171.6 162.9v5M169.2 165h5.4M171.9 162.5v5M169.6 168.3h5.4M172.3 165.8v5M169.9 172.5h5.4M172.6 170v5M170.3 171.1h5.4M173 168.6v5M170.6 169.7h5.4M173.3 167.2v5M171 166.9h5.4M173.7 164.4v5M171.3 166.1h5.4M174 163.6v5M171.7 159.2h5.4M174.4 156.7v5M172 153.2h5.4M174.7 150.7v5M172.3 149.2h5.4M175 146.7v5M172.7 133h5.4M175.4 130.5v5M173 126.7h5.4M175.7 124.2v5M173.4 120.9h5.4M176.1 118.4v5M173.7 119.1h5.4M176.4 116.6v5M174.1 127.5h5.4M176.8 125v5M174.4 141.1h5.4M177.1 138.6v5M174.8 148.2h5.4M177.5 145.7v5M175.1 156.2h5.4M177.8 153.7v5M175.5 161.3h5.4M178.2 158.8v5M175.8 164.8h5.4M178.5 162.3v5M176.1 167.9h5.4M178.8 165.4v5M176.5 167.5h5.4M179.2 165v5M176.8 166.2h5.4M179.5 163.7v5M177.2 167.5h5.4M179.9 165v5M177.5 171.7h5.4M180.2 169.2v5M177.9 172.5h5.4M180.6 170v5M178.2 171.2h5.4M180.9 168.7v5M178.6 169.8h5.4M181.3 167.3v5M178.9 164.8h5.4M181.6 162.3v5M179.3 155.8h5.4M182 153.3v5M179.6 153.6h5.4M182.3 151.1v5M180 151.2h5.4M182.7 148.7v5M180.3 149.4h5.4M183 146.9v5M180.6 153.7h5.4M183.3 151.2v5M181 162.9h5.4M183.7 160.4v5M181.3 166h5.4M184 163.5v5M181.7 169.2h5.4M184.4 166.7v5M182 169.8h5.4M184.7 167.3v5M182.4 176.5h5.4M185.1 174v5M182.7 173.3h5.4M185.4 170.8v5M183.1 173.2h5.4M185.8 170.7v5M183.4 178.3h5.4M186.1 175.8v5M183.8 179.2h5.4M186.5 176.7v5M184.1 175.4h5.4M186.8 172.9v5M184.4 171.7h5.4M187.1 169.2v5M184.8 174.4h5.4M187.5 171.9v5M185.1 172.3h5.4M187.8 169.8v5M185.5 171.1h5.4M188.2 168.6v5M185.8 173.5h5.4M188.5 171v5M186.2 168.1h5.4M188.9 165.6v5M186.5 162.3h5.4M189.2 159.8v5M186.9 152.2h5.4M189.6 149.7v5M187.2 148.9h5.4M189.9 146.4v5M187.6 139.2h5.4M190.3 136.7v5M187.9 132.5h5.4M190.6 130v5M188.2 132.7h5.4M190.9 130.2v5M188.6 135.8h5.4M191.3 133.3v5M188.9 145.3h5.4M191.6 142.8v5M189.3 157.2h5.4M192 154.7v5M189.6 166h5.4M192.3 163.5v5M190 166.1h5.4M192.7 163.6v5M190.3 166.2h5.4M193 163.7v5M190.7 168.6h5.4M193.4 166.1v5M191 170.3h5.4M193.7 167.8v5M191.4 171.5h5.4M194.1 169v5M191.7 169.8h5.4M194.4 167.3v5M192.1 173h5.4M194.8 170.5v5M192.4 175.1h5.4M195.1 172.6v5M192.7 173.9h5.4M195.4 171.4v5M193.1 172.7h5.4M195.8 170.2v5M193.4 173.8h5.4M196.1 171.3v5M193.8 168.3h5.4M196.5 165.8v5M194.1 166.8h5.4M196.8 164.3v5M194.5 165.8h5.4M197.2 163.3v5M194.8 166.4h5.4M197.5 163.9v5M195.2 165h5.4M197.9 162.5v5M195.5 166.1h5.4M198.2 163.6v5M195.9 164.3h5.4M198.6 161.8v5M196.2 162.1h5.4M198.9 159.6v5M196.5 160h5.4M199.2 157.5v5M196.9 160.8h5.4M199.6 158.3v5M197.2 160.7h5.4M199.9 158.2v5M197.6 157.8h5.4M200.3 155.3v5M197.9 164.2h5.4M200.6 161.7v5M198.3 166.6h5.4M201 164.1v5M198.6 170h5.4M201.3 167.5v5M199 167.9h5.4M201.7 165.4v5M199.3 167.9h5.4M202 165.4v5M199.7 165.3h5.4M202.4 162.8v5M200 167.6h5.4M202.7 165.1v5M200.3 156.5h5.4M203 154v5M200.7 150.4h5.4M203.4 147.9v5M201 137.8h5.4M203.7 135.3v5M201.4 131.6h5.4M204.1 129.1v5M201.7 125.3h5.4M204.4 122.8v5M202.1 134.7h5.4M204.8 132.2v5M202.4 148.1h5.4M205.1 145.6v5M202.8 155.7h5.4M205.5 153.2v5M203.1 168h5.4M205.8 165.5v5M203.5 174h5.4M206.2 171.5v5M203.8 173.1h5.4M206.5 170.6v5M204.1 173.9h5.4M206.8 171.4v5M204.5 174.4h5.4M207.2 171.9v5M204.8 176h5.4M207.5 173.5v5M205.2 174.9h5.4M207.9 172.4v5M205.5 173.6h5.4M208.2 171.1v5M205.9 172.3h5.4M208.6 169.8v5M206.2 167.7h5.4M208.9 165.2v5M206.6 165h5.4M209.3 162.5v5M206.9 163.9h5.4M209.6 161.4v5M207.3 165.7h5.4M210 163.2v5M207.6 162.4h5.4M210.3 159.9v5M208 168.6h5.4M210.7 166.1v5M208.3 170.6h5.4M211 168.1v5M208.6 172.1h5.4M211.3 169.6v5M209 175.9h5.4M211.7 173.4v5M209.3 174.7h5.4M212 172.2v5M209.7 179.1h5.4M212.4 176.6v5M210 177.1h5.4M212.7 174.6v5M210.4 181.4h5.4M213.1 178.9v5M210.7 181.1h5.4M213.4 178.6v5M211.1 182.8h5.4M213.8 180.3v5M211.4 183.2h5.4M214.1 180.7v5M211.8 182.1h5.4M214.5 179.6v5M212.1 182.2h5.4M214.8 179.7v5M212.4 179.1h5.4M215.1 176.6v5M212.8 178.5h5.4M215.5 176v5M213.1 182.9h5.4M215.8 180.4v5M213.5 180.9h5.4M216.2 178.4v5M213.8 183.1h5.4M216.5 180.6v5M214.2 182.4h5.4M216.9 179.9v5M214.5 181.4h5.4M217.2 178.9v5M214.9 175.8h5.4M217.6 173.3v5M215.2 179.8h5.4M217.9 177.3v5M215.6 176.9h5.4M218.3 174.4v5M215.9 175.6h5.4M218.6 173.1v5M216.2 178.8h5.4M218.9 176.3v5M216.6 181.4h5.4M219.3 178.9v5M216.9 179.6h5.4M219.6 177.1v5M217.3 179.2h5.4M220 176.7v5M217.6 180h5.4M220.3 177.5v5M218 176.5h5.4M220.7 174v5M218.3 176.9h5.4M221 174.4v5M218.7 171.5h5.4M221.4 169v5M219 166.3h5.4M221.7 163.8v5M219.4 160.8h5.4M222.1 158.3v5M219.7 150.9h5.4M222.4 148.4v5M220 145.1h5.4M222.7 142.6v5M220.4 139.2h5.4M223.1 136.7v5M220.7 143.7h5.4M223.4 141.2v5M221.1 148.1h5.4M223.8 145.6v5M221.4 160.7h5.4M224.1 158.2v5M221.8 165.7h5.4M224.5 163.2v5M222.1 172.9h5.4M224.8 170.4v5M222.5 176.5h5.4M225.2 174v5M222.8 179.8h5.4M225.5 177.3v5M223.2 179.9h5.4M225.9 177.4v5M223.5 183.3h5.4M226.2 180.8v5M223.9 181h5.4M226.6 178.5v5M224.2 180h5.4M226.9 177.5v5M224.5 177.4h5.4M227.2 174.9v5M224.9 171.9h5.4M227.6 169.4v5M225.2 167.4h5.4M227.9 164.9v5M225.6 158.3h5.4M228.3 155.8v5M225.9 150.2h5.4M228.6 147.7v5M226.3 149.2h5.4M229 146.7v5M226.6 154.4h5.4M229.3 151.9v5M227 164.7h5.4M229.7 162.2v5M227.3 164.7h5.4M230 162.2v5M227.7 175.9h5.4M230.4 173.4v5M228 175.9h5.4M230.7 173.4v5M228.3 183.1h5.4M231 180.6v5M228.7 180.4h5.4M231.4 177.9v5M229 184.1h5.4M231.7 181.6v5M229.4 183.3h5.4M232.1 180.8v5M229.7 186.7h5.4M232.4 184.2v5M230.1 188.8h5.4M232.8 186.3v5M230.4 188.2h5.4M233.1 185.7v5M230.8 187.1h5.4M233.5 184.6v5M231.1 184.6h5.4M233.8 182.1v5M231.5 182.6h5.4M234.2 180.1v5M231.8 186.5h5.4M234.5 184v5M232.1 185.9h5.4M234.8 183.4v5M232.5 181.7h5.4M235.2 179.2v5M232.8 179.2h5.4M235.5 176.7v5M233.2 167.6h5.4M235.9 165.1v5M233.5 156.5h5.4M236.2 154v5M233.9 142.3h5.4M236.6 139.8v5M234.2 132.4h5.4M236.9 129.9v5M234.6 126.8h5.4M237.3 124.3v5M234.9 126.8h5.4M237.6 124.3v5M235.3 133.9h5.4M238 131.4v5M235.6 145.7h5.4M238.3 143.2v5M236 149.8h5.4M238.7 147.3v5M236.3 151.2h5.4M239 148.7v5M236.6 146.9h5.4M239.3 144.4v5M237 137.3h5.4M239.7 134.8v5M237.3 133.5h5.4M240 131v5M237.7 134.3h5.4M240.4 131.8v5M238 141h5.4M240.7 138.5v5M238.4 151.1h5.4M241.1 148.6v5M238.7 159.7h5.4M241.4 157.2v5M239.1 169h5.4M241.8 166.5v5M239.4 177.3h5.4M242.1 174.8v5M239.8 175.1h5.4M242.5 172.6v5M240.1 175.2h5.4M242.8 172.7v5M240.4 174.7h5.4M243.1 172.2v5M240.8 171h5.4M243.5 168.5v5M241.1 173.1h5.4M243.8 170.6v5M241.5 174.3h5.4M244.2 171.8v5M241.8 178.4h5.4M244.5 175.9v5M242.2 183.3h5.4M244.9 180.8v5M242.5 182.9h5.4M245.2 180.4v5M242.9 186.3h5.4M245.6 183.8v5M243.2 188.5h5.4M245.9 186v5M243.6 187.9h5.4M246.3 185.4v5M243.9 187.8h5.4M246.6 185.3v5M244.2 187.4h5.4M246.9 184.9v5M244.6 187.8h5.4M247.3 185.3v5M244.9 187.8h5.4M247.6 185.3v5M245.3 188.6h5.4M248 186.1v5M245.6 188.2h5.4M248.3 185.7v5M246 184.7h5.4M248.7 182.2v5M246.3 186.3h5.4M249 183.8v5M246.7 186.3h5.4M249.4 183.8v5M247 184.8h5.4M249.7 182.3v5M247.4 185.9h5.4M250.1 183.4v5M247.7 188.8h5.4M250.4 186.3v5M248 184.3h5.4M250.7 181.8v5M248.4 190.1h5.4M251.1 187.6v5M248.7 190.3h5.4M251.4 187.8v5M249.1 190.3h5.4M251.8 187.8v5M249.4 191.8h5.4M252.1 189.3v5M249.8 190.2h5.4M252.5 187.7v5M250.1 189.3h5.4M252.8 186.8v5M250.5 191.5h5.4M253.2 189v5M250.8 190h5.4M253.5 187.5v5M251.2 188h5.4M253.9 185.5v5M251.5 183.6h5.4M254.2 181.1v5M251.9 182.3h5.4M254.6 179.8v5M252.2 174.9h5.4M254.9 172.4v5M252.5 167.5h5.4M255.2 165v5M252.9 158.7h5.4M255.6 156.2v5M253.2 150.2h5.4M255.9 147.7v5M253.6 154h5.4M256.3 151.5v5M253.9 158.3h5.4M256.6 155.8v5M254.3 161h5.4M257 158.5v5M254.6 173.6h5.4M257.3 171.1v5M255 177.6h5.4M257.7 175.1v5M255.3 182.3h5.4M258 179.8v5M255.7 182.1h5.4M258.4 179.6v5M256 181.5h5.4M258.7 179v5M256.3 174.5h5.4M259 172v5M256.7 166.9h5.4M259.4 164.4v5M257 158.1h5.4M259.7 155.6v5M257.4 148.8h5.4M260.1 146.3v5M257.7 139.5h5.4M260.4 137v5M258.1 136.5h5.4M260.8 134v5M258.4 142.4h5.4M261.1 139.9v5M258.8 153.8h5.4M261.5 151.3v5M259.1 166h5.4M261.8 163.5v5M259.5 176.2h5.4M262.2 173.7v5M259.8 182.5h5.4M262.5 180v5M260.1 183.1h5.4M262.8 180.6v5M260.5 177.5h5.4M263.2 175v5M260.8 173h5.4M263.5 170.5v5M261.2 163.6h5.4M263.9 161.1v5M261.5 154.6h5.4M264.2 152.1v5M261.9 150.4h5.4M264.6 147.9v5M262.2 148.1h5.4M264.9 145.6v5M262.6 149.9h5.4M265.3 147.4v5M262.9 160.2h5.4M265.6 157.7v5M263.3 166.8h5.4M266 164.3v5M263.6 173.6h5.4M266.3 171.1v5M264 181.6h5.4M266.7 179.1v5M264.3 185.7h5.4M267 183.2v5M264.6 187h5.4M267.3 184.5v5M265 184.2h5.4M267.7 181.7v5M265.3 187.7h5.4M268 185.2v5M265.7 187.8h5.4M268.4 185.3v5M266 186.3h5.4M268.7 183.8v5M266.4 186.3h5.4M269.1 183.8v5M266.7 189.2h5.4M269.4 186.7v5M267.1 189.7h5.4M269.8 187.2v5M267.4 189.7h5.4M270.1 187.2v5M267.8 189.6h5.4M270.5 187.1v5M268.1 187.4h5.4M270.8 184.9v5M268.4 188.2h5.4M271.1 185.7v5M268.8 181.9h5.4M271.5 179.4v5M269.1 184.8h5.4M271.8 182.3v5M269.5 183.9h5.4M272.2 181.4v5M269.8 185.1h5.4M272.5 182.6v5M270.2 187.3h5.4M272.9 184.8v5M270.5 186.1h5.4M273.2 183.6v5M270.9 185.6h5.4M273.6 183.1v5M271.2 186.6h5.4M273.9 184.1v5M271.6 187.5h5.4M274.3 185v5M271.9 185.3h5.4M274.6 182.8v5M272.2 188.1h5.4M274.9 185.6v5M272.6 188.2h5.4M275.3 185.7v5M272.9 185.2h5.4M275.6 182.7v5M273.3 175.8h5.4M276 173.3v5M273.6 165.3h5.4M276.3 162.8v5M274 153h5.4M276.7 150.5v5M274.3 145h5.4M277 142.5v5M274.7 136.8h5.4M277.4 134.3v5M275 139.9h5.4M277.7 137.4v5M275.4 145h5.4M278.1 142.5v5M275.7 156.4h5.4M278.4 153.9v5M276 167h5.4M278.7 164.5v5M276.4 177.6h5.4M279.1 175.1v5M276.7 183.5h5.4M279.4 181v5M277.1 181.4h5.4M279.8 178.9v5M277.4 186.3h5.4M280.1 183.8v5M277.8 188.2h5.4M280.5 185.7v5M278.1 186.6h5.4M280.8 184.1v5M278.5 183.9h5.4M281.2 181.4v5M278.8 185.5h5.4M281.5 183v5M279.2 178.4h5.4M281.9 175.9v5M279.5 172.5h5.4M282.2 170v5M279.9 166.2h5.4M282.6 163.7v5M280.2 163.3h5.4M282.9 160.8v5M280.5 159.9h5.4M283.2 157.4v5M280.9 162.9h5.4M283.6 160.4v5M281.2 164.7h5.4M283.9 162.2v5M281.6 167.6h5.4M284.3 165.1v5M281.9 173.9h5.4M284.6 171.4v5M282.3 173h5.4M285 170.5v5M282.6 173.2h5.4M285.3 170.7v5M283 165.7h5.4M285.7 163.2v5M283.3 160.7h5.4M286 158.2v5M283.7 158.2h5.4M286.4 155.7v5M284 156.4h5.4M286.7 153.9v5M284.3 161.3h5.4M287 158.8v5M284.7 166h5.4M287.4 163.5v5M285 172.1h5.4M287.7 169.6v5M285.4 179.4h5.4M288.1 176.9v5M285.7 184.5h5.4M288.4 182v5M286.1 186.9h5.4M288.8 184.4v5M286.4 185.3h5.4M289.1 182.8v5M286.8 185.3h5.4M289.5 182.8v5M287.1 188.2h5.4M289.8 185.7v5M287.5 185.6h5.4M290.2 183.1v5M287.8 183.8h5.4M290.5 181.3v5M288.1 186.4h5.4M290.8 183.9v5M288.5 186.1h5.4M291.2 183.6v5M288.8 185.6h5.4M291.5 183.1v5M289.2 185.3h5.4M291.9 182.8v5M289.5 184.6h5.4M292.2 182.1v5M289.9 187h5.4M292.6 184.5v5M290.2 184h5.4M292.9 181.5v5M290.6 181.9h5.4M293.3 179.4v5M290.9 180.6h5.4M293.6 178.1v5M291.3 181.3h5.4M294 178.8v5M291.6 178h5.4M294.3 175.5v5M292 178h5.4M294.7 175.5v5M292.3 173.2h5.4M295 170.7v5M292.6 167h5.4M295.3 164.5v5M293 159.5h5.4M295.7 157v5M293.3 155.5h5.4M296 153v5M293.7 149.9h5.4M296.4 147.4v5M294 149h5.4M296.7 146.5v5M294.4 155.1h5.4M297.1 152.6v5M294.7 160.6h5.4M297.4 158.1v5M295.1 169.8h5.4M297.8 167.3v5M295.4 172.6h5.4M298.1 170.1v5M295.8 178.5h5.4M298.5 176v5M296.1 183.4h5.4M298.8 180.9v5M296.4 189.5h5.4M299.1 187v5M296.8 187.6h5.4M299.5 185.1v5M297.1 185.1h5.4M299.8 182.6v5M297.5 185.9h5.4M300.2 183.4v5M297.8 184.4h5.4M300.5 181.9v5M298.2 179.8h5.4M300.9 177.3v5M298.5 173.7h5.4M301.2 171.2v5M298.9 165.5h5.4M301.6 163v5M299.2 147.9h5.4M301.9 145.4v5M299.6 130.2h5.4M302.3 127.7v5M299.9 104h5.4M302.6 101.5v5M300.2 88.7h5.4M302.9 86.2v5M300.6 84.2h5.4M303.3 81.7v5M300.9 98.2h5.4M303.6 95.7v5M301.3 121.8h5.4M304 119.3v5M301.6 139.5h5.4M304.3 137v5M302 162.8h5.4M304.7 160.3v5M302.3 174.9h5.4M305 172.4v5M302.7 183h5.4M305.4 180.5v5M303 185.5h5.4M305.7 183v5M303.4 185.1h5.4M306.1 182.6v5M303.7 182.1h5.4M306.4 179.6v5M304 182.2h5.4M306.7 179.7v5M304.4 177.4h5.4M307.1 174.9v5M304.7 174h5.4M307.4 171.5v5M305.1 167.7h5.4M307.8 165.2v5M305.4 159.2h5.4M308.1 156.7v5M305.8 153.1h5.4M308.5 150.6v5M306.1 158.3h5.4M308.8 155.8v5M306.5 158.9h5.4M309.2 156.4v5M306.8 165.9h5.4M309.5 163.4v5M307.2 173.8h5.4M309.9 171.3v5M307.5 177.2h5.4M310.2 174.7v5M307.9 177.2h5.4M310.6 174.7v5M308.2 182.8h5.4M310.9 180.3v5M308.5 181.8h5.4M311.2 179.3v5M308.9 186.4h5.4M311.6 183.9v5M309.2 186.7h5.4M311.9 184.2v5M309.6 184.5h5.4M312.3 182v5M309.9 186h5.4M312.6 183.5v5M310.3 182.7h5.4M313 180.2v5M310.6 183.7h5.4M313.3 181.2v5M311 177.2h5.4M313.7 174.7v5M311.3 168.1h5.4M314 165.6v5M311.7 160.6h5.4M314.4 158.1v5M312 151.8h5.4M314.7 149.3v5M312.3 146.1h5.4M315 143.6v5M312.7 146.7h5.4M315.4 144.2v5M313 153.8h5.4M315.7 151.3v5M313.4 162.8h5.4M316.1 160.3v5M313.7 172.9h5.4M316.4 170.4v5M314.1 178.4h5.4M316.8 175.9v5M314.4 181.1h5.4M317.1 178.6v5M314.8 183.1h5.4M317.5 180.6v5M315.1 188.4h5.4M317.8 185.9v5M315.5 185.2h5.4M318.2 182.7v5M315.8 182.8h5.4M318.5 180.3v5M316.1 180.2h5.4M318.8 177.7v5M316.5 180.5h5.4M319.2 178v5M316.8 179.8h5.4M319.5 177.3v5M317.2 182.6h5.4M319.9 180.1v5M317.5 182.2h5.4M320.2 179.7v5M317.9 184h5.4M320.6 181.5v5M318.2 187.8h5.4M320.9 185.3v5M318.6 185.8h5.4M321.3 183.3v5M318.9 183.1h5.4M321.6 180.6v5M319.3 181.8h5.4M322 179.3v5M319.6 181.3h5.4M322.3 178.8v5M320 177.1h5.4M322.7 174.6v5M320.3 174.9h5.4M323 172.4v5M320.6 174.8h5.4M323.3 172.3v5M321 176.1h5.4M323.7 173.6v5M321.3 176.9h5.4M324 174.4v5M321.7 178.6h5.4M324.4 176.1v5M322 176.9h5.4M324.7 174.4v5M322.4 179.5h5.4M325.1 177v5M322.7 178.8h5.4M325.4 176.3v5M323.1 182.5h5.4M325.8 180v5M323.4 179.3h5.4M326.1 176.8v5M323.8 182.4h5.4M326.5 179.9v5M324.1 181.9h5.4M326.8 179.4v5M324.4 183.8h5.4M327.1 181.3v5M324.8 184.4h5.4M327.5 181.9v5M325.1 184.8h5.4M327.8 182.3v5M325.5 179.9h5.4M328.2 177.4v5M325.8 183.5h5.4M328.5 181v5M326.2 178.4h5.4M328.9 175.9v5M326.5 174.2h5.4M329.2 171.7v5M326.9 169.5h5.4M329.6 167v5M327.2 158h5.4M329.9 155.5v5M327.6 151.8h5.4M330.3 149.3v5M327.9 151.2h5.4M330.6 148.7v5M328.2 148h5.4M330.9 145.5v5M328.6 152.3h5.4M331.3 149.8v5M328.9 160.3h5.4M331.6 157.8v5M329.3 164.6h5.4M332 162.1v5M329.6 172.5h5.4M332.3 170v5M330 174.3h5.4M332.7 171.8v5M330.3 173.8h5.4M333 171.3v5M330.7 178.3h5.4M333.4 175.8v5M331 178.6h5.4M333.7 176.1v5M331.4 177.8h5.4M334.1 175.3v5M331.7 180.8h5.4M334.4 178.3v5M332 181.2h5.4M334.7 178.7v5M332.4 177.1h5.4M335.1 174.6v5M332.7 184.2h5.4M335.4 181.7v5M333.1 183.1h5.4M335.8 180.6v5M333.4 183.5h5.4M336.1 181v5M333.8 183.3h5.4M336.5 180.8v5M334.1 186.6h5.4M336.8 184.1v5M334.5 182.9h5.4M337.2 180.4v5M334.8 185h5.4M337.5 182.5v5M335.2 179.7h5.4M337.9 177.2v5M335.5 175.3h5.4M338.2 172.8v5M335.9 165.9h5.4M338.6 163.4v5M336.2 154.3h5.4M338.9 151.8v5M336.5 149h5.4M339.2 146.5v5M336.9 144.6h5.4M339.6 142.1v5M337.2 143.8h5.4M339.9 141.3v5M337.6 148.5h5.4M340.3 146v5M337.9 161.7h5.4M340.6 159.2v5M338.3 165.6h5.4M341 163.1v5M338.6 171.5h5.4M341.3 169v5M339 174.6h5.4M341.7 172.1v5M339.3 178.1h5.4M342 175.6v5M339.7 178.7h5.4M342.4 176.2v5M340 175.3h5.4M342.7 172.8v5M340.3 171.5h5.4M343 169v5M340.7 167.6h5.4M343.4 165.1v5M341 165.7h5.4M343.7 163.2v5M341.4 161.1h5.4M344.1 158.6v5M341.7 165.1h5.4M344.4 162.6v5M342.1 169h5.4M344.8 166.5v5M342.4 175.1h5.4M345.1 172.6v5M342.8 172.6h5.4M345.5 170.1v5M343.1 176.1h5.4M345.8 173.6v5M343.5 175.2h5.4M346.2 172.7v5M343.8 176.6h5.4M346.5 174.1v5M344.1 170.8h5.4M346.8 168.3v5M344.5 167.7h5.4M347.2 165.2v5M344.8 164.2h5.4M347.5 161.7v5M345.2 159h5.4M347.9 156.5v5M345.5 159.4h5.4M348.2 156.9v5M345.9 162.3h5.4M348.6 159.8v5M346.2 162.4h5.4M348.9 159.9v5M346.6 166.9h5.4M349.3 164.4v5M346.9 171.9h5.4M349.6 169.4v5M347.3 174.1h5.4M350 171.6v5M347.6 172.8h5.4M350.3 170.3v5M347.9 168.9h5.4M350.6 166.4v5M348.3 169.3h5.4M351 166.8v5M348.6 172.5h5.4M351.3 170v5M349 174.3h5.4M351.7 171.8v5M349.3 176.5h5.4M352 174v5M349.7 179.1h5.4M352.4 176.6v5M350 186.4h5.4M352.7 183.9v5M350.4 186.2h5.4M353.1 183.7v5M350.7 186.8h5.4M353.4 184.3v5M351.1 187.3h5.4M353.8 184.8v5M351.4 191.6h5.4M354.1 189.1v5M351.8 188.8h5.4M354.5 186.3v5M352.1 189.4h5.4M354.8 186.9v5M352.4 186.2h5.4M355.1 183.7v5M352.8 186.1h5.4M355.5 183.6v5M353.1 182.8h5.4M355.8 180.3v5M353.5 180.9h5.4M356.2 178.4v5M353.8 183.8h5.4M356.5 181.3v5M354.2 179.1h5.4M356.9 176.6v5M354.5 177.7h5.4M357.2 175.2v5M354.9 180.4h5.4M357.6 177.9v5M355.2 183.4h5.4M357.9 180.9v5M355.6 185.5h5.4M358.3 183v5M355.9 184.6h5.4M358.6 182.1v5M356.2 184.3h5.4M358.9 181.8v5M356.6 187.9h5.4M359.3 185.4v5M356.9 189.5h5.4M359.6 187v5M357.3 192.1h5.4M360 189.6v5M357.6 194.1h5.4M360.3 191.6v5M358 193.4h5.4M360.7 190.9v5M358.3 193.1h5.4M361 190.6v5M358.7 191.7h5.4M361.4 189.2v5M359 193.4h5.4M361.7 190.9v5M359.4 196.7h5.4M362.1 194.2v5M359.7 194.4h5.4M362.4 191.9v5M360 191.9h5.4M362.7 189.4v5M360.4 189.8h5.4M363.1 187.3v5M360.7 192.3h5.4M363.4 189.8v5M361.1 184.2h5.4M363.8 181.7v5M361.4 183.9h5.4M364.1 181.4v5M361.8 182.9h5.4M364.5 180.4v5M362.1 178.1h5.4M364.8 175.6v5M362.5 169.2h5.4M365.2 166.7v5M362.8 167.7h5.4M365.5 165.2v5M363.2 161.8h5.4M365.9 159.3v5M363.5 161.1h5.4M366.2 158.6v5M363.9 164.1h5.4M366.6 161.6v5M364.2 167.8h5.4M366.9 165.3v5M364.5 174.9h5.4M367.2 172.4v5M364.9 181.7h5.4M367.6 179.2v5M365.2 182.3h5.4M367.9 179.8v5M365.6 185h5.4M368.3 182.5v5M365.9 188.1h5.4M368.6 185.6v5M366.3 185.3h5.4M369 182.8v5M366.6 185.5h5.4M369.3 183v5M367 179.1h5.4M369.7 176.6v5M367.3 175.6h5.4M370 173.1v5M367.7 168.8h5.4M370.4 166.3v5M368 156.6h5.4M370.7 154.1v5M368.3 144.1h5.4M371 141.6v5M368.7 141.2h5.4M371.4 138.7v5M369 140.9h5.4M371.7 138.4v5M369.4 146.4h5.4M372.1 143.9v5M369.7 158h5.4M372.4 155.5v5M370.1 165.3h5.4M372.8 162.8v5M370.4 178.4h5.4M373.1 175.9v5M370.8 183.1h5.4M373.5 180.6v5M371.1 188.5h5.4M373.8 186v5M371.5 190.1h5.4M374.2 187.6v5M371.8 186.7h5.4M374.5 184.2v5M372.1 185.5h5.4M374.8 183v5M372.5 184.3h5.4M375.2 181.8v5M372.8 181.9h5.4M375.5 179.4v5M373.2 181h5.4M375.9 178.5v5M373.5 179h5.4M376.2 176.5v5M373.9 179.3h5.4M376.6 176.8v5M374.2 184.2h5.4M376.9 181.7v5M374.6 185.1h5.4M377.3 182.6v5M374.9 181.9h5.4M377.6 179.4v5M375.3 182h5.4M378 179.5v5M375.6 178.8h5.4M378.3 176.3v5M375.9 174.1h5.4M378.6 171.6v5M376.3 171.4h5.4M379 168.9v5M376.6 173.1h5.4M379.3 170.6v5M377 173.1h5.4M379.7 170.6v5M377.3 171.1h5.4M380 168.6v5M377.7 177.1h5.4M380.4 174.6v5M378 176.5h5.4M380.7 174v5M378.4 176.8h5.4M381.1 174.3v5M378.7 182.4h5.4M381.4 179.9v5M379.1 179.7h5.4M381.8 177.2v5M379.4 177.5h5.4M382.1 175v5M379.8 176.1h5.4M382.5 173.6v5M380.1 176.5h5.4M382.8 174v5M380.4 176.9h5.4M383.1 174.4v5M380.8 172.4h5.4M383.5 169.9v5M381.1 174.5h5.4M383.8 172v5M381.5 176.9h5.4M384.2 174.4v5M381.8 176.7h5.4M384.5 174.2v5M382.2 178.1h5.4M384.9 175.6v5M382.5 180.5h5.4M385.2 178v5M382.9 179.3h5.4M385.6 176.8v5M383.2 179.9h5.4M385.9 177.4v5M383.6 179h5.4M386.3 176.5v5M383.9 177.7h5.4M386.6 175.2v5M384.2 175.4h5.4M386.9 172.9v5M384.6 175.2h5.4M387.3 172.7v5M384.9 175.5h5.4M387.6 173v5M385.3 175.5h5.4M388 173v5M385.6 178.7h5.4M388.3 176.2v5M386 180.4h5.4M388.7 177.9v5M386.3 181.7h5.4M389 179.2v5M386.7 187.1h5.4M389.4 184.6v5M387 179.4h5.4M389.7 176.9v5M387.4 178.8h5.4M390.1 176.3v5M387.7 175.9h5.4M390.4 173.4v5M388 177.4h5.4M390.7 174.9v5M388.4 174.1h5.4M391.1 171.6v5M388.7 168.5h5.4M391.4 166v5M389.1 172.1h5.4M391.8 169.6v5M389.4 175.5h5.4M392.1 173v5M389.8 175.7h5.4M392.5 173.2v5M390.1 178.4h5.4M392.8 175.9v5M390.5 178h5.4M393.2 175.5v5M390.8 178.2h5.4M393.5 175.7v5M391.2 178.8h5.4M393.9 176.3v5M391.5 177h5.4M394.2 174.5v5M391.9 177.3h5.4M394.6 174.8v5M392.2 173h5.4M394.9 170.5v5M392.5 179.7h5.4M395.2 177.2v5M392.9 177h5.4M395.6 174.5v5M393.2 182.3h5.4M395.9 179.8v5M393.6 181h5.4M396.3 178.5v5M393.9 181.5h5.4M396.6 179v5M394.3 183h5.4M397 180.5v5M394.6 178.9h5.4M397.3 176.4v5M395 177.1h5.4M397.7 174.6v5M395.3 175.7h5.4M398 173.2v5M395.7 175.8h5.4M398.4 173.3v5M396 177.6h5.4M398.7 175.1v5M396.3 181.4h5.4M399 178.9v5M396.7 180h5.4M399.4 177.5v5M397 181.9h5.4M399.7 179.4v5M397.4 178.4h5.4M400.1 175.9v5M397.7 175.4h5.4M400.4 172.9v5M398.1 173.1h5.4M400.8 170.6v5M398.4 174.4h5.4M401.1 171.9v5M398.8 170.6h5.4M401.5 168.1v5M399.1 169.7h5.4M401.8 167.2v5M399.5 170.1h5.4M402.2 167.6v5M399.8 172.7h5.4M402.5 170.2v5M400.1 170.3h5.4M402.8 167.8v5M400.5 175h5.4M403.2 172.5v5M400.8 176.2h5.4M403.5 173.7v5M401.2 179.7h5.4M403.9 177.2v5M401.5 178.2h5.4M404.2 175.7v5M401.9 181.5h5.4M404.6 179v5" stroke="#ff0000" stroke-width="0.85"/>
<path d="M58.9 125 59.2 125.3 59.6 125.5 59.9 125.6 60.3 125.3 60.6 124.8 61 124.2 61.3 123.9 61.7 124.3 62 125.2 62.4 126.4 62.7 127.2 63 127.2 63.4 126.1 63.7 123.9 64.1 121.5 64.4 120.1 64.8 120.5 65.1 122.7 65.5 125.9 65.8 129 66.2 131.3 66.5 132.7 66.9 133.5 67.2 134.1 67.5 134.5 67.9 134.9 68.2 135.2 68.6 135.5 68.9 135.8 69.3 136.1 69.6 136.4 70 136.7 70.3 137.1 70.7 137.4 71 137.7 71.3 138 71.7 138.2 72 138.5 72.4 138.5 72.7 138.2 73.1 137.2 73.4 135.6 73.8 133.7 74.1 132.3 74.5 132.1 74.8 133.4 75.1 135.7 75.5 138.2 75.8 140.2 76.2 141.5 76.5 142.3 76.9 142.8 77.2 142.9 77.6 142.6 77.9 142.2 78.3 141.4 78.6 139.8 78.9 137.1 79.3 133.6 79.6 130.2 80 128.2 80.3 128.4 80.7 130.8 81 134.1 81.4 137 81.7 139.3 82.1 140.7 82.4 141 82.8 140.2 83.1 137.6 83.4 132.8 83.8 126.2 84.1 119.8 84.5 116.2 84.8 117.3 85.2 122.9 85.5 130.5 85.9 137.4 86.2 142.4 86.6 145.3 86.9 146.8 87.2 147.5 87.6 147.9 87.9 147.9 88.3 147.7 88.6 146.9 89 144.8 89.3 140.5 89.7 133.4 90 124.1 90.4 115.2 90.7 110.3 91 111.7 91.4 118.8 91.7 128.3 92.1 136.9 92.4 142.7 92.8 145.9 93.1 147.2 93.5 147.5 93.8 147.4 94.2 147.2 94.5 147 94.9 146.8 95.2 146.5 95.5 146.3 95.9 146.1 96.2 146.2 96.6 146.6 96.9 146.9 97.3 147.1 97.6 147 98 146.4 98.3 144.6 98.7 141.5 99 137.3 99.3 133.2 99.7 131.1 100 132 100.4 135.7 100.7 140.7 101.1 145.3 101.4 148.7 101.8 150.6 102.1 151.6 102.5 151.9 102.8 151.9 103.1 151.7 103.5 151 103.8 149.2 104.2 145 104.5 137.5 104.9 126.4 105.2 112.9 105.6 99.1 105.9 85.6 106.3 70.3 106.6 51.2 106.9 31 107.3 18 107.6 21.1 108 42.1 108.3 73.5 108.7 104.7 109 128 109.4 141.7 109.7 148.3 110.1 150.9 110.4 151.7 110.8 152 111.1 152.2 111.4 152.4 111.8 152.5 112.1 152.7 112.5 152.8 112.8 152.9 113.2 153.1 113.5 153.2 113.9 153.4 114.2 153.5 114.6 153.7 114.9 153.8 115.2 153.9 115.6 154.1 115.9 154.3 116.3 154.4 116.6 154.6 117 154.7 117.3 154.9 117.7 155.1 118 155.4 118.4 155.5 118.7 155.2 119 154.4 119.4 153.1 119.7 151.8 120.1 151 120.4 151.2 120.8 152.6 121.1 154.6 121.5 156.6 121.8 158.3 122.2 159.5 122.5 160.2 122.8 160.8 123.2 161.1 123.5 161.4 123.9 161.7 124.2 161.9 124.6 162.2 124.9 162.4 125.3 162.7 125.6 163 126 163.2 126.3 163.5 126.7 163.7 127 164 127.3 163.8 127.7 163.5 128 163 128.4 162.2 128.7 161.1 129.1 159.8 129.4 158.6 129.8 158 130.1 158.2 130.5 159 130.8 160 131.1 160.9 131.5 161.5 131.8 161.7 132.2 161.8 132.5 161.7 132.9 161.5 133.2 161 133.6 160.1 133.9 158.2 134.3 154.9 134.6 150.1 134.9 144.7 135.3 140.5 135.6 139 136 141 136.3 145.4 136.7 150.5 137 154.7 137.4 157.5 137.7 158.8 138.1 159.3 138.4 158.9 138.8 157.5 139.1 154.2 139.4 147.9 139.8 138 140.1 125.9 140.5 114.8 140.8 109.2 141.2 111.4 141.5 120.4 141.9 132.4 142.2 143.3 142.6 150.7 142.9 154 143.2 153.3 143.6 148.8 143.9 140.6 144.3 129.8 144.6 119.5 145 113.5 145.3 114.4 145.7 121.8 146 132.4 146.4 142.7 146.7 150.2 147 154.6 147.4 156.9 147.7 157.9 148.1 158.1 148.4 157.8 148.8 157 149.1 155.7 149.5 154.3 149.8 153.2 150.2 153 150.5 153.9 150.8 155.6 151.2 157.4 151.5 158.9 151.9 160 152.2 160.7 152.6 161.1 152.9 161.4 153.3 161.6 153.6 161.8 154 162 154.3 162 154.7 162 155 162 155.3 162 155.7 162 156 162 156.4 162 156.7 162 157.1 162 157.4 161.9 157.8 161.8 158.1 161.4 158.5 160.2 158.8 157.8 159.1 153.5 159.5 147.3 159.8 140.4 160.2 134.9 160.5 133 160.9 135.6 161.2 141.5 161.6 148.4 161.9 154.3 162.3 158.3 162.6 160.5 162.9 161.5 163.3 161.9 163.6 162 164 161.8 164.3 161.1 164.7 158.9 165 153.3 165.4 141.9 165.7 122.4 166.1 95.9 166.4 67.9 166.8 47.8 167.1 43.7 167.4 57.6 167.8 83.4 168.1 111.7 168.5 134.7 168.8 149.7 169.2 157.6 169.5 161.1 169.9 162.5 170.2 163.1 170.6 163.5 170.9 163.9 171.2 164.2 171.6 164.6 171.9 164.9 172.3 165.3 172.6 165.6 173 165.9 173.3 166.1 173.7 165.9 174 164.7 174.4 161.7 174.7 155.7 175 146.2 175.4 134.3 175.7 123.3 176.1 117.3 176.4 119 176.8 127.7 177.1 140.1 177.5 152.2 177.8 161.3 178.2 166.9 178.5 169.9 178.8 171.3 179.2 172 179.5 172.5 179.9 172.8 180.2 172.9 180.6 172.5 180.9 171.2 181.3 168.4 181.6 163.8 182 158 182.3 152.4 182.7 149.2 183 149.9 183.3 154.2 183.7 160.6 184 167 184.4 172.1 184.7 175.3 185.1 177 185.4 177.3 185.8 177.1 186.1 176.9 186.5 176.5 186.8 176.2 187.1 175.8 187.5 175.5 187.8 175 188.2 174.1 188.5 172.6 188.9 169.5 189.2 164.1 189.6 156.2 189.9 146.7 190.3 138.1 190.6 133.3 190.9 134.3 191.3 140.3 191.6 149 192 157.3 192.3 163.5 192.7 167.1 193 168.8 193.4 169.7 193.7 170 194.1 170.1 194.4 170.1 194.8 169.8 195.1 169.5 195.4 169.2 195.8 169 196.1 169.1 196.5 169.4 196.8 169.9 197.2 170.4 197.5 170.6 197.9 170.2 198.2 169 198.6 166.6 198.9 163.3 199.2 159.7 199.6 156.9 199.9 156 200.3 157.6 200.6 160.9 201 164.7 201.3 168 201.7 170.1 202 170.4 202.4 168.8 202.7 164.5 203 157.4 203.4 148 203.7 138.5 204.1 132.2 204.4 131.5 204.8 136.8 205.1 146 205.5 155.9 205.8 164.1 206.2 169.5 206.5 172.5 206.8 173.9 207.2 174.4 207.5 174.5 207.9 174.3 208.2 173.7 208.6 172.6 208.9 171 209.3 169.4 209.6 168.2 210 168.1 210.3 169.2 210.7 171.2 211 173.5 211.3 175.5 211.7 177 212 178 212.4 178.6 212.7 179 213.1 179.3 213.4 179.6 213.8 179.9 214.1 180.2 214.5 180.5 214.8 180.8 215.1 181 215.5 181 215.8 181 216.2 181 216.5 181 216.9 181 217.2 181 217.6 180.9 217.9 180.7 218.3 180.3 218.6 179.8 218.9 179.1 219.3 178.5 219.6 178.1 220 178 220.3 178.2 220.7 178.3 221 177.5 221.4 174.9 221.7 169.8 222.1 161.9 222.4 152.4 222.7 143.9 223.1 139.3 223.4 140.5 223.8 147 224.1 156.3 224.5 165.5 224.8 172.6 225.2 177.1 225.5 179.4 225.9 180.4 226.2 180.5 226.6 179.9 226.9 178.2 227.2 175 227.6 170.1 227.9 163.9 228.3 158.1 228.6 154.5 229 154.5 229.3 158.3 229.7 164.3 230 170.6 230.4 175.7 230.7 179 231 180.9 231.4 181.8 231.7 182.2 232.1 182.4 232.4 182.5 232.8 182.6 233.1 182.7 233.5 182.8 233.8 182.8 234.2 182.8 234.5 182.5 234.8 181.6 235.2 179.2 235.5 174.4 235.9 166.1 236.2 154.6 236.6 141.6 236.9 130.8 237.3 126.1 237.6 128.8 238 137.1 238.3 146.6 238.7 152.2 239 151.4 239.3 144.8 239.7 136.2 240 130.6 240.4 131.3 240.7 138.7 241.1 150.3 241.4 161.9 241.8 170.6 242.1 174.9 242.5 175.5 242.8 173.8 243.1 171.8 243.5 171 243.8 172.2 244.2 175.1 244.5 178.8 244.9 182.2 245.2 184.7 245.6 186.3 245.9 187.2 246.3 187.7 246.6 188 246.9 188.1 247.3 188.3 247.6 188.4 248 188.6 248.3 188.7 248.7 188.9 249 189 249.4 189 249.7 189 250.1 189 250.4 189 250.7 189 251.1 189 251.4 189 251.8 189 252.1 189 252.5 188.9 252.8 188.8 253.2 188.5 253.5 187.9 253.9 186.5 254.2 183.9 254.6 179.4 254.9 172.7 255.2 164.7 255.6 157.1 255.9 152.6 256.3 152.7 256.6 157.6 257 165.3 257.3 173.4 257.7 179.9 258 183.8 258.4 184.9 258.7 183 259 177.7 259.4 168.9 259.7 157.4 260.1 145.7 260.4 137.3 260.8 135.2 261.1 140.2 261.5 150.5 261.8 162.4 262.2 172.5 262.5 178.9 262.8 180.9 263.2 178.7 263.5 172.9 263.9 164.8 264.2 156.6 264.6 151.1 264.9 150.3 265.3 154.6 265.6 162.4 266 171 266.3 178.4 266.7 183.6 267 186.6 267.3 188.1 267.7 188.7 268 188.9 268.4 189 268.7 189 269.1 189 269.4 189 269.8 189 270.1 189 270.5 189 270.8 189 271.1 189 271.5 188.9 271.8 188.8 272.2 188.6 272.5 188.3 272.9 187.9 273.2 187.5 273.6 187.1 273.9 187 274.3 187 274.6 187.1 274.9 186.7 275.3 185.1 275.6 181.4 276 174.7 276.3 165 276.7 153.6 277 143.3 277.4 137.5 277.7 138.3 278.1 145.4 278.4 156.3 278.7 167.5 279.1 176.7 279.4 182.8 279.8 186.3 280.1 187.8 280.5 188.2 280.8 187.7 281.2 186.2 281.5 183.3 281.9 178.6 282.2 172.1 282.6 164.9 282.9 158.9 283.2 156.1 283.6 157.3 283.9 162 284.3 168 284.6 172.9 285 174.8 285.3 173.3 285.7 169 286 163.8 286.4 159.9 286.7 159.2 287 162 287.4 167.4 287.7 173.6 288.1 179.1 288.4 183 288.8 185.3 289.1 186.5 289.5 186.9 289.8 187.1 290.2 187.1 290.5 187 290.8 186.8 291.2 186.6 291.5 186.2 291.9 185.7 292.2 185.1 292.6 184.5 292.9 184.1 293.3 184 293.6 184.1 294 184.1 294.3 183.3 294.7 181.1 295 176.9 295.3 170.6 295.7 163.3 296 156.8 296.4 153.3 296.7 153.9 297.1 158.6 297.4 165.6 297.8 172.9 298.1 178.8 298.5 182.9 298.8 185.2 299.1 186.3 299.5 186.7 299.8 186.7 300.2 186.3 300.5 185.1 300.9 182.1 301.2 175.9 301.6 165.1 301.9 148.8 302.3 128.7 302.6 108.9 302.9 95.3 303.3 92.4 303.6 101.5 304 119.1 304.3 139.7 304.7 158.1 305 171.5 305.4 179.6 305.7 183.8 306.1 185.2 306.4 185 306.7 183.2 307.1 179.6 307.4 174.4 307.8 168 308.1 161.8 308.5 157.8 308.8 157.3 309.2 160.5 309.5 166.3 309.9 172.9 310.2 178.7 310.6 182.9 310.9 185.5 311.2 186.8 311.6 187.4 311.9 187.6 312.3 187.5 312.6 186.9 313 185.4 313.3 182.1 313.7 176.8 314 169.4 314.4 160.9 314.7 153.2 315 148.6 315.4 148.6 315.7 153 316.1 160.3 316.4 168.2 316.8 174.8 317.1 179.3 317.5 181.9 317.8 183 318.2 183.4 318.5 183.3 318.8 183.1 319.2 183 319.5 182.9 319.9 182.9 320.2 182.8 320.6 182.7 320.9 182.5 321.3 182 321.6 181.1 322 179.8 322.3 178.1 322.7 176.3 323 174.8 323.3 174 323.7 174.3 324 175.6 324.4 177.3 324.7 179 325.1 180.4 325.4 181.3 325.8 181.8 326.1 182 326.5 182.1 326.8 182.1 327.1 182 327.5 181.9 327.8 181.8 328.2 181.3 328.5 180.2 328.9 178.1 329.2 174.4 329.6 169.1 329.9 163 330.3 157.2 330.6 153.6 330.9 153.4 331.3 156.6 331.6 162.3 332 168.6 332.3 174.1 332.7 178.2 333 180.7 333.4 182 333.7 182.6 334.1 182.9 334.4 183 334.7 183.1 335.1 183.2 335.4 183.2 335.8 183.3 336.1 183.3 336.5 183.2 336.8 183 337.2 182.3 337.5 180.8 337.9 177.7 338.2 172.5 338.6 165.1 338.9 156.4 339.2 148.2 339.6 142.9 339.9 142.4 340.3 146.8 340.6 154.6 341 163.4 341.3 171 341.7 176.1 342 178.3 342.4 177.8 342.7 175.3 343 171.4 343.4 167.5 343.7 164.7 344.1 164.1 344.4 165.9 344.8 169.5 345.1 173.7 345.5 177.2 345.8 179.2 346.2 179.2 346.5 177.2 346.8 173.6 347.2 169.2 347.5 165.3 347.9 163.2 348.2 163.5 348.6 165.9 348.9 169.2 349.3 172 349.6 173.2 350 172.4 350.3 170.5 350.6 168.6 351 168 351.3 169.2 351.7 172 352 175.7 352.4 179.2 352.7 182.1 353.1 184 353.4 185.1 353.8 185.6 354.1 185.9 354.5 185.9 354.8 185.6 355.1 184.8 355.5 183.3 355.8 181.3 356.2 179 356.5 177 356.9 176 357.2 176.4 357.6 178.2 357.9 180.7 358.3 183.5 358.6 185.8 358.9 187.6 359.3 188.7 359.6 189.4 360 189.9 360.3 190.2 360.7 190.5 361 190.7 361.4 190.9 361.7 190.9 362.1 190.8 362.4 190.7 362.7 190.6 363.1 190.3 363.4 189.8 363.8 188.8 364.1 186.8 364.5 183.5 364.8 178.7 365.2 172.6 365.5 166.5 365.9 161.8 366.2 160 366.6 161.7 366.9 166.2 367.2 172.2 367.6 178 367.9 182.6 368.3 185.4 368.6 186.7 369 186.3 369.3 184.2 369.7 179.9 370 173.1 370.4 164.1 370.7 154.2 371 145.8 371.4 141.3 371.7 142.2 372.1 148.2 372.4 157.2 372.8 166.8 373.1 174.8 373.5 180.4 373.8 183.4 374.2 184.4 374.5 183.9 374.8 182.4 375.2 180.6 375.5 179 375.9 178.1 376.2 178.1 376.6 179 376.9 180.1 377.3 180.9 377.6 180.8 378 179.4 378.3 176.9 378.6 173.8 379 171.3 379.3 170 379.7 170.6 380 172.8 380.4 175.8 380.7 178.8 381.1 181.1 381.4 182.2 381.8 182.1 382.1 180.8 382.5 178.8 382.8 176.5 383.1 174.8 383.5 174 383.8 174.5 384.2 176.1 384.5 178.2 384.9 180.2 385.2 181.6 385.6 182.1 385.9 181.5 386.3 180.1 386.6 178.2 386.9 176.4 387.3 175.2 387.6 175.1 388 176.1 388.3 177.8 388.7 179.5 389 180.7 389.4 180.7 389.7 179.6 390.1 177.4 390.4 174.7 390.7 172.3 391.1 171.1 391.4 171.4 391.8 173.2 392.1 176 392.5 178.7 392.8 180.8 393.2 181.8 393.5 181.7 393.9 180.6 394.2 179.1 394.6 177.8 394.9 177 395.2 177.2 395.6 178.3 395.9 179.8 396.3 181.1 396.6 181.6 397 181.2 397.3 179.9 397.7 178.1 398 176.3 398.4 175.2 398.7 175 399 175.7 399.4 176.7 399.7 177.4 400.1 177.2 400.4 175.8 400.8 173.6 401.1 171.2 401.5 169.4 401.8 169 402.2 170.2 402.5 172.5 402.8 175.2 403.2 177.8 403.5 179.7 403.9 180.9 404.2 181.5 404.6 181.7" stroke="#000" stroke-width="0.8"/>
</g>
<g stroke="#222" stroke-width="1.1" fill="none">
<rect x="58.9" y="4.5" width="345.5" height="254.8"/>
<path d="M53.4 229.40H58.9" /><path d="M53.4 191.94H58.9" /><path d="M53.4 154.47H58.9" /><path d="M53.4 117.01H58.9" /><path d="M53.4 79.54H58.9" /><path d="M53.4 42.08H58.9" /><path d="M53.4 4.61H58.9" /><path d="M56 248.13H58.9" /><path d="M56 210.67H58.9" /><path d="M56 173.20H58.9" /><path d="M56 135.74H58.9" /><path d="M56 98.27H58.9" /><path d="M56 60.81H58.9" /><path d="M56 23.34H58.9" /><path d="M58.90 259.3V264.6" /><path d="M104.99 259.3V264.6" /><path d="M151.08 259.3V264.6" /><path d="M197.17 259.3V264.6" /><path d="M243.26 259.3V264.6" /><path d="M289.35 259.3V264.6" /><path d="M335.44 259.3V264.6" /><path d="M381.53 259.3V264.6" /><path d="M81.94 259.3V262.2" /><path d="M128.03 259.3V262.2" /><path d="M174.12 259.3V262.2" /><path d="M220.22 259.3V262.2" /><path d="M266.31 259.3V262.2" /><path d="M312.39 259.3V262.2" /><path d="M358.48 259.3V262.2" /><path d="M404.57 259.3V262.2" />
</g>
<g font-size="11" fill="#111"><text x="49.8" y="233.30" text-anchor="end">20000</text><text x="49.8" y="195.84" text-anchor="end">25000</text><text x="49.8" y="158.37" text-anchor="end">30000</text><text x="49.8" y="120.91" text-anchor="end">35000</text><text x="49.8" y="83.44" text-anchor="end">40000</text><text x="49.8" y="45.98" text-anchor="end">45000</text><text x="49.8" y="8.51" text-anchor="end">50000</text><text x="58.90" y="277" text-anchor="middle">20</text><text x="104.99" y="277" text-anchor="middle">30</text><text x="151.08" y="277" text-anchor="middle">40</text><text x="197.17" y="277" text-anchor="middle">50</text><text x="243.26" y="277" text-anchor="middle">60</text><text x="289.35" y="277" text-anchor="middle">70</text><text x="335.44" y="277" text-anchor="middle">80</text><text x="381.53" y="277" text-anchor="middle">90</text></g>
<text transform="translate(10.2 140.8) rotate(-90)" font-size="13.6" text-anchor="middle" fill="#111">Intensity (a.u.)</text>
<text x="215.2" y="300" font-size="13.4" fill="#111">2θ (°)</text>
<text transform="translate(67 24.7) scale(0.8 1)" font-size="19.5" fill="#000">a</text>
<g font-size="12.4" fill="#000">
<text x="181.4" y="23.4">MAPbBr<tspan font-size="8.5" dy="4">3</tspan><tspan dy="-4">, 2K</tspan></text>
<text x="181.4" y="43.3">D20, λ=1.540 Å</text>
<text x="181.4" y="58.2">S.G.: <tspan font-style="italic">Pnma</tspan></text>
<text x="319.3" y="20.4">Yobs</text>
<text x="319.3" y="35.5">Ycalc</text>
<text x="319.3" y="50.4">Yobs-Ycalc</text>
<text x="319.3" y="65.8">Bragg_position</text>
</g>
<path d="M300 15.8h4.4M302.2 13.6v4.4" stroke="#ff0000" stroke-width="0.8"/>
<path d="M288.4 31.4H315.4" stroke="#000" stroke-width="0.8"/>
<path d="M288.4 46.3H315.4" stroke="#0000ff" stroke-width="0.9"/>
<path d="M302.1 59V65.2" stroke="#008000" stroke-width="1" stroke-opacity="0.62"/>
<g><defs><radialGradient id="gPb2" cx="0.5" cy="0.5" r="0.5"><stop offset="0" stop-color="#ffffff"/><stop offset="0.1" stop-color="#efefef"/><stop offset="0.32" stop-color="#7b7e83"/><stop offset="0.55" stop-color="#5b5e64"/><stop offset="0.88" stop-color="#52555b"/><stop offset="1" stop-color="#404245"/></radialGradient><radialGradient id="gPb0" cx="0.5" cy="0.5" r="0.5"><stop offset="0" stop-color="#ffffff"/><stop offset="0.1" stop-color="#eeeeee"/><stop offset="0.32" stop-color="#707379"/><stop offset="0.55" stop-color="#4e5157"/><stop offset="0.88" stop-color="#44474d"/><stop offset="1" stop-color="#303236"/></radialGradient><radialGradient id="gPb9" cx="0.5" cy="0.5" r="0.5"><stop offset="0" stop-color="#ffffff"/><stop offset="0.1" stop-color="#f4f4f4"/><stop offset="0.32" stop-color="#a1a3a7"/><stop offset="0.55" stop-color="#8b8d90"/><stop offset="0.88" stop-color="#84868a"/><stop offset="1" stop-color="#77787b"/></radialGradient><radialGradient id="gPb6" cx="0.5" cy="0.5" r="0.5"><stop offset="0" stop-color="#ffffff"/><stop offset="0.1" stop-color="#f2f2f2"/><stop offset="0.32" stop-color="#919398"/><stop offset="0.55" stop-color="#76797d"/><stop offset="0.88" stop-color="#6f7176"/><stop offset="1" stop-color="#5f6164"/></radialGradient><radialGradient id="gPb1" cx="0.5" cy="0.5" r="0.5"><stop offset="0" stop-color="#ffffff"/><stop offset="0.1" stop-color="#efefef"/><stop offset="0.32" stop-color="#75787e"/><stop offset="0.55" stop-color="#55585d"/><stop offset="0.88" stop-color="#4b4e54"/><stop offset="1" stop-color="#383a3e"/></radialGradient><radialGradient id="gPb8" cx="0.5" cy="0.5" r="0.5"><stop offset="0" stop-color="#ffffff"/><stop offset="0.1" stop-color="#f3f3f3"/><stop offset="0.32" stop-color="#9b9ea2"/><stop offset="0.55" stop-color="#84868a"/><stop offset="0.88" stop-color="#7d7f83"/><stop offset="1" stop-color="#6f7073"/></radialGradient><radialGradient id="gBr2" cx="0.5" cy="0.5" r="0.5"><stop offset="0" stop-color="#fce2b6"/><stop offset="0.12" stop-color="#eaa76c"/><stop offset="0.36" stop-color="#9e5420"/><stop offset="0.62" stop-color="#8a491b"/><stop offset="0.9" stop-color="#753c17"/><stop offset="1" stop-color="#633013"/></radialGradient><radialGradient id="gBr0" cx="0.5" cy="0.5" r="0.5"><stop offset="0" stop-color="#fce0b0"/><stop offset="0.12" stop-color="#e8a060"/><stop offset="0.36" stop-color="#96460e"/><stop offset="0.62" stop-color="#803a08"/><stop offset="0.9" stop-color="#6a2c04"/><stop offset="1" stop-color="#561f00"/></radialGradient><radialGradient id="gBr10" cx="0.5" cy="0.5" r="0.5"><stop offset="0" stop-color="#fdecce"/><stop offset="0.12" stop-color="#f1c49c"/><stop offset="0.36" stop-color="#be8c6a"/><stop offset="0.62" stop-color="#b08566"/><stop offset="0.9" stop-color="#a37c63"/><stop offset="1" stop-color="#967461"/></radialGradient><radialGradient id="gBr7" cx="0.5" cy="0.5" r="0.5"><stop offset="0" stop-color="#fde8c5"/><stop offset="0.12" stop-color="#eeb98a"/><stop offset="0.36" stop-color="#b2774e"/><stop offset="0.62" stop-color="#a26e4a"/><stop offset="0.9" stop-color="#926447"/><stop offset="1" stop-color="#835b44"/></radialGradient><radialGradient id="gBr3" cx="0.5" cy="0.5" r="0.5"><stop offset="0" stop-color="#fce4b9"/><stop offset="0.12" stop-color="#ebab72"/><stop offset="0.36" stop-color="#a25b29"/><stop offset="0.62" stop-color="#8e5024"/><stop offset="0.9" stop-color="#7b4421"/><stop offset="1" stop-color="#69391d"/></radialGradient><radialGradient id="gBr8" cx="0.5" cy="0.5" r="0.5"><stop offset="0" stop-color="#fde9c8"/><stop offset="0.12" stop-color="#efbd90"/><stop offset="0.36" stop-color="#b67e57"/><stop offset="0.62" stop-color="#a77653"/><stop offset="0.9" stop-color="#976c50"/><stop offset="1" stop-color="#89634e"/></radialGradient><radialGradient id="gBr5" cx="0.5" cy="0.5" r="0.5"><stop offset="0" stop-color="#fde6bf"/><stop offset="0.12" stop-color="#ecb27e"/><stop offset="0.36" stop-color="#aa693c"/><stop offset="0.62" stop-color="#985f37"/><stop offset="0.9" stop-color="#865434"/><stop offset="1" stop-color="#764a30"/></radialGradient><radialGradient id="gBr4" cx="0.5" cy="0.5" r="0.5"><stop offset="0" stop-color="#fce5bc"/><stop offset="0.12" stop-color="#ebae78"/><stop offset="0.36" stop-color="#a66233"/><stop offset="0.62" stop-color="#93582e"/><stop offset="0.9" stop-color="#814c2a"/><stop offset="1" stop-color="#704127"/></radialGradient><radialGradient id="gBr9" cx="0.5" cy="0.5" r="0.5"><stop offset="0" stop-color="#fdebcb"/><stop offset="0.12" stop-color="#f0c096"/><stop offset="0.36" stop-color="#ba8560"/><stop offset="0.62" stop-color="#ab7d5c"/><stop offset="0.9" stop-color="#9d745a"/><stop offset="1" stop-color="#906c57"/></radialGradient><radialGradient id="gBr1" cx="0.5" cy="0.5" r="0.5"><stop offset="0" stop-color="#fce1b3"/><stop offset="0.12" stop-color="#e9a466"/><stop offset="0.36" stop-color="#9a4d17"/><stop offset="0.62" stop-color="#854111"/><stop offset="0.9" stop-color="#70340e"/><stop offset="1" stop-color="#5c280a"/></radialGradient><radialGradient id="gC10" cx="0.5" cy="0.5" r="0.5"><stop offset="0" stop-color="#f1ddc9"/><stop offset="0.3" stop-color="#ad8c75"/><stop offset="0.8" stop-color="#9b816d"/><stop offset="1" stop-color="#8b7768"/></radialGradient><radialGradient id="gN9" cx="0.5" cy="0.5" r="0.5"><stop offset="0" stop-color="#ffffff"/><stop offset="0.3" stop-color="#c7cced"/><stop offset="0.8" stop-color="#b1b6db"/><stop offset="1" stop-color="#9da2c6"/></radialGradient><radialGradient id="gH10" cx="0.5" cy="0.5" r="0.5"><stop offset="0" stop-color="#ffffff"/><stop offset="0.4" stop-color="#fceeee"/><stop offset="0.78" stop-color="#f3dada"/><stop offset="1" stop-color="#d3b8b8"/></radialGradient><radialGradient id="gH8" cx="0.5" cy="0.5" r="0.5"><stop offset="0" stop-color="#ffffff"/><stop offset="0.4" stop-color="#fcecec"/><stop offset="0.78" stop-color="#f2d6d6"/><stop offset="1" stop-color="#ceafaf"/></radialGradient><radialGradient id="gC0" cx="0.5" cy="0.5" r="0.5"><stop offset="0" stop-color="#e8c8a8"/><stop offset="0.3" stop-color="#7a4620"/><stop offset="0.8" stop-color="#5e3414"/><stop offset="1" stop-color="#44240c"/></radialGradient><radialGradient id="gN0" cx="0.5" cy="0.5" r="0.5"><stop offset="0" stop-color="#ffffff"/><stop offset="0.3" stop-color="#aab2e4"/><stop offset="0.8" stop-color="#8890c8"/><stop offset="1" stop-color="#6a72a8"/></radialGradient><radialGradient id="gH0" cx="0.5" cy="0.5" r="0.5"><stop offset="0" stop-color="#ffffff"/><stop offset="0.4" stop-color="#fae4e4"/><stop offset="0.78" stop-color="#ecc4c4"/><stop offset="1" stop-color="#b88c8c"/></radialGradient><radialGradient id="gN1" cx="0.5" cy="0.5" r="0.5"><stop offset="0" stop-color="#ffffff"/><stop offset="0.3" stop-color="#adb5e5"/><stop offset="0.8" stop-color="#8d94ca"/><stop offset="1" stop-color="#7077ab"/></radialGradient><radialGradient id="gH2" cx="0.5" cy="0.5" r="0.5"><stop offset="0" stop-color="#ffffff"/><stop offset="0.4" stop-color="#fae6e6"/><stop offset="0.78" stop-color="#edc8c8"/><stop offset="1" stop-color="#bd9595"/></radialGradient><radialGradient id="gH1" cx="0.5" cy="0.5" r="0.5"><stop offset="0" stop-color="#ffffff"/><stop offset="0.4" stop-color="#fae5e5"/><stop offset="0.78" stop-color="#edc6c6"/><stop offset="1" stop-color="#bb9090"/></radialGradient><radialGradient id="gC9" cx="0.5" cy="0.5" r="0.5"><stop offset="0" stop-color="#f0dbc6"/><stop offset="0.3" stop-color="#a7856c"/><stop offset="0.8" stop-color="#957964"/><stop offset="1" stop-color="#846f5f"/></radialGradient><radialGradient id="gN6" cx="0.5" cy="0.5" r="0.5"><stop offset="0" stop-color="#ffffff"/><stop offset="0.3" stop-color="#bdc4ea"/><stop offset="0.8" stop-color="#a3a9d5"/><stop offset="1" stop-color="#8c92bc"/></radialGradient><radialGradient id="gH6" cx="0.5" cy="0.5" r="0.5"><stop offset="0" stop-color="#ffffff"/><stop offset="0.4" stop-color="#fbeaea"/><stop offset="0.78" stop-color="#f0d1d1"/><stop offset="1" stop-color="#c8a6a6"/></radialGradient><radialGradient id="gH5" cx="0.5" cy="0.5" r="0.5"><stop offset="0" stop-color="#ffffff"/><stop offset="0.4" stop-color="#fbe9e9"/><stop offset="0.78" stop-color="#f0cfcf"/><stop offset="1" stop-color="#c5a2a2"/></radialGradient><radialGradient id="gH4" cx="0.5" cy="0.5" r="0.5"><stop offset="0" stop-color="#ffffff"/><stop offset="0.4" stop-color="#fbe8e8"/><stop offset="0.78" stop-color="#efcdcd"/><stop offset="1" stop-color="#c39d9d"/></radialGradient><radialGradient id="gC4" cx="0.5" cy="0.5" r="0.5"><stop offset="0" stop-color="#ebd0b5"/><stop offset="0.3" stop-color="#8e6242"/><stop offset="0.8" stop-color="#765338"/><stop offset="1" stop-color="#604531"/></radialGradient><radialGradient id="gN7" cx="0.5" cy="0.5" r="0.5"><stop offset="0" stop-color="#ffffff"/><stop offset="0.3" stop-color="#c1c6eb"/><stop offset="0.8" stop-color="#a8aed7"/><stop offset="1" stop-color="#9298bf"/></radialGradient><radialGradient id="gH3" cx="0.5" cy="0.5" r="0.5"><stop offset="0" stop-color="#ffffff"/><stop offset="0.4" stop-color="#fbe7e7"/><stop offset="0.78" stop-color="#eecbcb"/><stop offset="1" stop-color="#c09999"/></radialGradient></defs>
<circle cx="604.6" cy="213.1" r="6.51" fill="url(#gBr10)"/>
<circle cx="605.0" cy="135.6" r="6.53" fill="url(#gBr10)"/>
<circle cx="568.1" cy="188.4" r="2.54" fill="url(#gH10)"/>
<line x1="610.8" y1="219.8" x2="606.5" y2="215.1" stroke="#b88f72" stroke-width="2.4"/>
<circle cx="568.2" cy="162.4" r="2.54" fill="url(#gH10)"/>
<line x1="569.3" y1="182.8" x2="568.5" y2="186.5" stroke="#f6dddd" stroke-width="2.2"/>
<line x1="569.4" y1="169.8" x2="568.6" y2="164.8" stroke="#f6dddd" stroke-width="2.2"/>
<line x1="569.9" y1="180.1" x2="569.3" y2="182.8" stroke="#a38672" stroke-width="2.2"/>
<line x1="569.9" y1="173.3" x2="569.4" y2="169.8" stroke="#a38672" stroke-width="2.2"/>
<circle cx="605.4" cy="40.5" r="6.55" fill="url(#gBr10)"/>
<circle cx="657.5" cy="219.2" r="6.55" fill="url(#gBr10)"/>
<line x1="611.1" y1="137.8" x2="606.8" y2="136.2" stroke="#b88f72" stroke-width="2.4"/>
<circle cx="570.6" cy="177.2" r="4.21" fill="url(#gC10)"/>
<line x1="574.5" y1="177.5" x2="578.1" y2="177.8" stroke="#a38672" stroke-width="2.2"/>
<line x1="560.6" y1="222.7" x2="560.7" y2="208.2" stroke="#3a3a3a" stroke-width="0.9"/>
<line x1="560.6" y1="222.7" x2="570.0" y2="223.3" stroke="#3a3a3a" stroke-width="0.9"/>
<line x1="578.1" y1="177.8" x2="583.2" y2="178.2" stroke="#f6dddd" stroke-width="2.2"/>
<line x1="614.3" y1="223.6" x2="610.8" y2="219.8" stroke="#9a9ca1" stroke-width="2.4"/>
<circle cx="585.7" cy="178.5" r="2.55" fill="url(#gH10)"/>
<line x1="560.7" y1="208.2" x2="560.7" y2="193.8" stroke="#3a3a3a" stroke-width="0.9"/>
<line x1="570.0" y1="223.3" x2="579.4" y2="223.9" stroke="#3a3a3a" stroke-width="0.9"/>
<line x1="637.3" y1="222.8" x2="651.4" y2="220.3" stroke="#b88f72" stroke-width="2.4"/>
<line x1="560.7" y1="193.8" x2="560.8" y2="179.3" stroke="#3a3a3a" stroke-width="0.9"/>
<line x1="579.4" y1="223.9" x2="588.8" y2="224.6" stroke="#3a3a3a" stroke-width="0.9"/>
<line x1="567.9" y1="177.9" x2="562.9" y2="179.1" stroke="#a38672" stroke-width="2.2"/>
<line x1="560.6" y1="222.7" x2="557.4" y2="224.8" stroke="#3a3a3a" stroke-width="0.9"/>
<line x1="560.8" y1="179.3" x2="560.9" y2="164.9" stroke="#3a3a3a" stroke-width="0.9"/>
<line x1="588.8" y1="224.6" x2="598.2" y2="225.2" stroke="#3a3a3a" stroke-width="0.9"/>
<circle cx="657.8" cy="141.7" r="6.57" fill="url(#gBr10)"/>
<line x1="560.9" y1="164.9" x2="560.9" y2="150.4" stroke="#3a3a3a" stroke-width="0.9"/>
<line x1="598.2" y1="225.2" x2="607.6" y2="225.9" stroke="#3a3a3a" stroke-width="0.9"/>
<circle cx="620.6" cy="269.6" r="6.57" fill="url(#gBr10)"/>
<line x1="626.0" y1="224.9" x2="637.3" y2="222.8" stroke="#9a9ca1" stroke-width="2.4"/>
<line x1="611.5" y1="47.0" x2="607.2" y2="42.4" stroke="#b88f72" stroke-width="2.4"/>
<line x1="560.9" y1="150.4" x2="561.0" y2="136.0" stroke="#3a3a3a" stroke-width="0.9"/>
<line x1="607.6" y1="225.9" x2="616.9" y2="226.5" stroke="#3a3a3a" stroke-width="0.9"/>
<circle cx="680.4" cy="196.2" r="2.55" fill="url(#gH10)"/>
<line x1="561.0" y1="136.0" x2="561.0" y2="121.5" stroke="#3a3a3a" stroke-width="0.9"/>
<line x1="562.9" y1="179.1" x2="558.0" y2="180.3" stroke="#bac4e7" stroke-width="2.2"/>
<line x1="618.8" y1="248.1" x2="620.1" y2="263.2" stroke="#b88f72" stroke-width="2.4"/>
<line x1="614.6" y1="139.0" x2="611.1" y2="137.8" stroke="#9a9ca1" stroke-width="2.4"/>
<line x1="616.9" y1="226.5" x2="626.3" y2="227.2" stroke="#3a3a3a" stroke-width="0.9"/>
<line x1="561.0" y1="121.5" x2="561.1" y2="107.1" stroke="#3a3a3a" stroke-width="0.9"/>
<line x1="637.6" y1="140.8" x2="651.7" y2="141.4" stroke="#b78d70" stroke-width="2.4"/>
<line x1="617.7" y1="236.0" x2="618.8" y2="248.1" stroke="#989ba0" stroke-width="2.4"/>
<line x1="626.3" y1="227.2" x2="635.7" y2="227.8" stroke="#3a3a3a" stroke-width="0.9"/>
<circle cx="680.5" cy="170.2" r="2.55" fill="url(#gH10)"/>
<circle cx="540.9" cy="179.8" r="2.56" fill="url(#gH10)"/>
<line x1="681.6" y1="190.6" x2="680.8" y2="194.3" stroke="#f5dcdc" stroke-width="2.2"/>
<line x1="561.1" y1="107.1" x2="561.2" y2="92.7" stroke="#3a3a3a" stroke-width="0.9"/>
<line x1="557.4" y1="224.8" x2="554.3" y2="226.9" stroke="#3a3a3a" stroke-width="0.9"/>
<line x1="548.1" y1="180.4" x2="543.5" y2="180.0" stroke="#f5dcdc" stroke-width="2.2"/>
<circle cx="616.9" cy="226.5" r="10.03" fill="url(#gPb9)"/>
<line x1="635.7" y1="227.8" x2="645.0" y2="228.4" stroke="#3a3a3a" stroke-width="0.9"/>
<line x1="561.2" y1="92.7" x2="561.2" y2="78.3" stroke="#3a3a3a" stroke-width="0.9"/>
<line x1="551.3" y1="180.6" x2="548.1" y2="180.4" stroke="#b7c2e6" stroke-width="2.2"/>
<line x1="681.7" y1="177.6" x2="680.9" y2="172.7" stroke="#f5dbdb" stroke-width="2.2"/>
<line x1="682.2" y1="188.0" x2="681.6" y2="190.6" stroke="#9e806b" stroke-width="2.2"/>
<circle cx="555.3" cy="180.9" r="4.13" fill="url(#gN9)"/>
<line x1="645.0" y1="228.4" x2="654.4" y2="229.1" stroke="#3a3a3a" stroke-width="0.9"/>
<line x1="561.2" y1="78.3" x2="561.3" y2="63.8" stroke="#3a3a3a" stroke-width="0.9"/>
<line x1="616.1" y1="217.0" x2="615.1" y2="205.0" stroke="#94979c" stroke-width="2.4"/>
<circle cx="658.2" cy="46.6" r="6.59" fill="url(#gBr9)"/>
<line x1="682.3" y1="181.2" x2="681.7" y2="177.6" stroke="#9d7f6a" stroke-width="2.2"/>
<line x1="626.3" y1="140.3" x2="637.6" y2="140.8" stroke="#93969b" stroke-width="2.4"/>
<line x1="561.3" y1="63.8" x2="561.4" y2="49.4" stroke="#3a3a3a" stroke-width="0.9"/>
<line x1="654.4" y1="229.1" x2="663.8" y2="229.7" stroke="#3a3a3a" stroke-width="0.9"/>
<line x1="615.1" y1="205.0" x2="613.8" y2="189.9" stroke="#b28668" stroke-width="2.4"/>
<line x1="555.9" y1="184.8" x2="556.4" y2="188.0" stroke="#b5bfe5" stroke-width="2.2"/>
<circle cx="682.9" cy="185.1" r="4.23" fill="url(#gC9)"/>
<line x1="561.4" y1="49.4" x2="570.8" y2="50.1" stroke="#3a3a3a" stroke-width="0.9"/>
<line x1="555.9" y1="178.0" x2="556.4" y2="175.7" stroke="#b4bfe5" stroke-width="2.2"/>
<line x1="663.8" y1="229.7" x2="673.1" y2="230.4" stroke="#3a3a3a" stroke-width="0.9"/>
<line x1="615.0" y1="50.7" x2="611.5" y2="47.0" stroke="#919399" stroke-width="2.4"/>
<line x1="607.9" y1="228.2" x2="596.5" y2="230.2" stroke="#909399" stroke-width="2.4"/>
<circle cx="613.2" cy="183.4" r="6.60" fill="url(#gBr8)"/>
<line x1="556.4" y1="188.0" x2="557.1" y2="192.6" stroke="#f5dada" stroke-width="2.2"/>
<line x1="686.8" y1="185.4" x2="690.4" y2="185.7" stroke="#9a7a64" stroke-width="2.2"/>
<line x1="570.8" y1="50.1" x2="580.1" y2="50.8" stroke="#3a3a3a" stroke-width="0.9"/>
<line x1="615.2" y1="161.7" x2="613.8" y2="176.9" stroke="#b08363" stroke-width="2.4"/>
<line x1="673.1" y1="230.4" x2="673.2" y2="216.0" stroke="#3a3a3a" stroke-width="0.9"/>
<line x1="690.4" y1="185.7" x2="695.4" y2="186.1" stroke="#f5d9d9" stroke-width="2.2"/>
<line x1="637.9" y1="50.1" x2="652.1" y2="47.7" stroke="#b08263" stroke-width="2.4"/>
<line x1="556.4" y1="175.7" x2="557.2" y2="172.2" stroke="#f5d9d9" stroke-width="2.2"/>
<circle cx="557.5" cy="195.0" r="2.56" fill="url(#gH8)"/>
<circle cx="676.6" cy="109.7" r="2.56" fill="url(#gH8)"/>
<line x1="616.4" y1="149.5" x2="615.2" y2="161.7" stroke="#8e9197" stroke-width="2.4"/>
<circle cx="697.9" cy="186.3" r="2.56" fill="url(#gH8)"/>
<line x1="673.2" y1="216.0" x2="673.2" y2="201.6" stroke="#3a3a3a" stroke-width="0.9"/>
<line x1="580.1" y1="50.8" x2="589.5" y2="51.5" stroke="#3a3a3a" stroke-width="0.9"/>
<line x1="554.3" y1="226.9" x2="551.1" y2="229.0" stroke="#3a3a3a" stroke-width="0.9"/>
<line x1="561.4" y1="49.4" x2="558.2" y2="51.4" stroke="#3a3a3a" stroke-width="0.9"/>
<circle cx="617.3" cy="140.0" r="10.06" fill="url(#gPb8)"/>
<line x1="673.2" y1="201.6" x2="673.3" y2="187.1" stroke="#3a3a3a" stroke-width="0.9"/>
<line x1="589.5" y1="51.5" x2="598.9" y2="52.1" stroke="#3a3a3a" stroke-width="0.9"/>
<line x1="618.2" y1="130.4" x2="619.3" y2="118.3" stroke="#8c8f94" stroke-width="2.4"/>
<circle cx="557.6" cy="170.4" r="2.56" fill="url(#gH8)"/>
<circle cx="676.7" cy="85.2" r="2.56" fill="url(#gH8)"/>
<line x1="680.2" y1="185.7" x2="675.4" y2="186.9" stroke="#95755e" stroke-width="2.2"/>
<line x1="673.1" y1="230.4" x2="670.1" y2="232.5" stroke="#3a3a3a" stroke-width="0.9"/>
<line x1="677.8" y1="104.4" x2="677.0" y2="107.9" stroke="#f4d8d8" stroke-width="2.2"/>
<line x1="596.5" y1="230.2" x2="582.3" y2="232.8" stroke="#ad7f5e" stroke-width="2.4"/>
<line x1="619.3" y1="118.3" x2="620.7" y2="103.1" stroke="#ad7e5d" stroke-width="2.4"/>
<line x1="673.3" y1="187.1" x2="673.3" y2="172.7" stroke="#3a3a3a" stroke-width="0.9"/>
<line x1="598.9" y1="52.1" x2="608.3" y2="52.8" stroke="#3a3a3a" stroke-width="0.9"/>
<line x1="677.9" y1="92.2" x2="677.1" y2="87.7" stroke="#f4d7d7" stroke-width="2.2"/>
<circle cx="621.3" cy="96.6" r="6.61" fill="url(#gBr7)"/>
<line x1="626.7" y1="52.0" x2="637.9" y2="50.1" stroke="#8a8c92" stroke-width="2.4"/>
<line x1="619.6" y1="229.4" x2="623.1" y2="233.2" stroke="#898c92" stroke-width="2.4"/>
<line x1="673.3" y1="172.7" x2="673.4" y2="158.3" stroke="#3a3a3a" stroke-width="0.9"/>
<line x1="678.3" y1="102.1" x2="677.8" y2="104.4" stroke="#afbae3" stroke-width="2.2"/>
<line x1="608.3" y1="52.8" x2="617.6" y2="53.5" stroke="#3a3a3a" stroke-width="0.9"/>
<line x1="678.4" y1="95.3" x2="677.9" y2="92.2" stroke="#aebae3" stroke-width="2.2"/>
<line x1="619.5" y1="75.0" x2="620.8" y2="90.1" stroke="#ab7a59" stroke-width="2.4"/>
<line x1="673.4" y1="158.3" x2="673.4" y2="143.9" stroke="#3a3a3a" stroke-width="0.9"/>
<circle cx="516.2" cy="232.3" r="6.62" fill="url(#gBr7)"/>
<line x1="617.6" y1="53.5" x2="627.0" y2="54.2" stroke="#3a3a3a" stroke-width="0.9"/>
<line x1="608.2" y1="139.6" x2="596.9" y2="139.1" stroke="#878a90" stroke-width="2.4"/>
<circle cx="576.1" cy="233.9" r="6.62" fill="url(#gBr7)"/>
<line x1="673.4" y1="143.9" x2="673.5" y2="129.5" stroke="#3a3a3a" stroke-width="0.9"/>
<line x1="618.4" y1="63.0" x2="619.5" y2="75.0" stroke="#86898f" stroke-width="2.4"/>
<line x1="675.4" y1="186.9" x2="670.5" y2="188.1" stroke="#acb8e2" stroke-width="2.2"/>
<circle cx="679.0" cy="99.2" r="4.15" fill="url(#gN7)"/>
<line x1="627.0" y1="54.2" x2="636.4" y2="54.9" stroke="#3a3a3a" stroke-width="0.9"/>
<line x1="551.1" y1="229.0" x2="547.9" y2="231.1" stroke="#3a3a3a" stroke-width="0.9"/>
<line x1="682.9" y1="99.5" x2="686.1" y2="99.8" stroke="#abb8e2" stroke-width="2.2"/>
<line x1="673.5" y1="129.5" x2="673.5" y2="115.1" stroke="#3a3a3a" stroke-width="0.9"/>
<line x1="558.2" y1="51.4" x2="555.0" y2="53.3" stroke="#3a3a3a" stroke-width="0.9"/>
<circle cx="617.6" cy="53.5" r="10.09" fill="url(#gPb6)"/>
<line x1="686.1" y1="99.8" x2="690.7" y2="100.1" stroke="#f4d5d5" stroke-width="2.2"/>
<line x1="636.4" y1="54.9" x2="645.7" y2="55.5" stroke="#3a3a3a" stroke-width="0.9"/>
<circle cx="653.6" cy="187.6" r="2.57" fill="url(#gH6)"/>
<line x1="673.5" y1="115.1" x2="673.6" y2="100.7" stroke="#3a3a3a" stroke-width="0.9"/>
<circle cx="693.2" cy="100.4" r="2.57" fill="url(#gH6)"/>
<line x1="670.1" y1="232.5" x2="667.0" y2="234.6" stroke="#3a3a3a" stroke-width="0.9"/>
<line x1="660.7" y1="188.2" x2="656.1" y2="187.8" stroke="#f3d5d5" stroke-width="2.2"/>
<line x1="645.7" y1="55.5" x2="655.1" y2="56.2" stroke="#3a3a3a" stroke-width="0.9"/>
<line x1="616.8" y1="44.0" x2="615.8" y2="32.0" stroke="#82858b" stroke-width="2.4"/>
<line x1="596.9" y1="139.1" x2="582.7" y2="138.5" stroke="#a67450" stroke-width="2.4"/>
<line x1="673.6" y1="100.7" x2="673.6" y2="86.3" stroke="#3a3a3a" stroke-width="0.9"/>
<line x1="663.9" y1="188.5" x2="660.7" y2="188.2" stroke="#a9b6e1" stroke-width="2.2"/>
<line x1="655.1" y1="56.2" x2="664.4" y2="56.9" stroke="#3a3a3a" stroke-width="0.9"/>
<circle cx="667.8" cy="188.8" r="4.16" fill="url(#gN6)"/>
<line x1="620.0" y1="140.9" x2="623.5" y2="142.1" stroke="#808389" stroke-width="2.4"/>
<line x1="615.8" y1="32.0" x2="614.5" y2="16.9" stroke="#a5724e" stroke-width="2.4"/>
<line x1="671.5" y1="101.0" x2="676.4" y2="99.8" stroke="#a8b5e1" stroke-width="2.2"/>
<line x1="673.6" y1="86.3" x2="673.7" y2="72.0" stroke="#3a3a3a" stroke-width="0.9"/>
<line x1="664.4" y1="56.9" x2="673.7" y2="57.6" stroke="#3a3a3a" stroke-width="0.9"/>
<line x1="673.7" y1="72.0" x2="673.7" y2="57.6" stroke="#3a3a3a" stroke-width="0.9"/>
<line x1="623.1" y1="233.2" x2="627.4" y2="238.0" stroke="#a4704b" stroke-width="2.4"/>
<line x1="608.6" y1="55.0" x2="597.3" y2="56.9" stroke="#7e8187" stroke-width="2.4"/>
<circle cx="613.9" cy="10.4" r="6.64" fill="url(#gBr5)"/>
<line x1="668.5" y1="192.7" x2="669.0" y2="195.8" stroke="#a7b4e0" stroke-width="2.2"/>
<line x1="528.9" y1="233.8" x2="520.1" y2="232.7" stroke="#a36f4a" stroke-width="2.4"/>
<line x1="558.9" y1="234.6" x2="571.0" y2="234.1" stroke="#a36e4a" stroke-width="2.4"/>
<circle cx="516.7" cy="136.4" r="6.64" fill="url(#gBr5)"/>
<line x1="668.5" y1="185.9" x2="669.0" y2="183.5" stroke="#a6b3e0" stroke-width="2.2"/>
<line x1="669.0" y1="195.8" x2="669.7" y2="200.4" stroke="#f3d3d3" stroke-width="2.2"/>
<circle cx="576.5" cy="138.2" r="6.64" fill="url(#gBr5)"/>
<line x1="547.9" y1="231.1" x2="544.8" y2="233.2" stroke="#3a3a3a" stroke-width="0.9"/>
<line x1="555.0" y1="53.3" x2="551.9" y2="55.3" stroke="#3a3a3a" stroke-width="0.9"/>
<line x1="669.0" y1="183.5" x2="669.8" y2="180.1" stroke="#f3d2d2" stroke-width="2.2"/>
<line x1="666.6" y1="102.1" x2="671.5" y2="101.0" stroke="#856046" stroke-width="2.2"/>
<circle cx="670.1" cy="202.8" r="2.58" fill="url(#gH5)"/>
<line x1="667.0" y1="234.6" x2="663.9" y2="236.7" stroke="#3a3a3a" stroke-width="0.9"/>
<line x1="673.7" y1="57.6" x2="670.7" y2="59.5" stroke="#3a3a3a" stroke-width="0.9"/>
<line x1="597.3" y1="56.9" x2="583.0" y2="59.4" stroke="#a06a44" stroke-width="2.4"/>
<circle cx="648.9" cy="101.5" r="2.58" fill="url(#gH4)"/>
<circle cx="670.2" cy="178.3" r="2.58" fill="url(#gH4)"/>
<line x1="620.3" y1="56.3" x2="623.8" y2="60.0" stroke="#777a81" stroke-width="2.4"/>
<line x1="656.4" y1="102.1" x2="651.4" y2="101.7" stroke="#f2d1d1" stroke-width="2.2"/>
<line x1="660.0" y1="102.4" x2="656.4" y2="102.1" stroke="#815a3f" stroke-width="2.2"/>
<circle cx="517.0" cy="58.4" r="6.66" fill="url(#gBr4)"/>
<line x1="535.9" y1="234.6" x2="528.9" y2="233.8" stroke="#74787e" stroke-width="2.4"/>
<circle cx="664.0" cy="102.7" r="4.27" fill="url(#gC4)"/>
<line x1="623.5" y1="142.1" x2="627.8" y2="143.7" stroke="#9d653d" stroke-width="2.4"/>
<line x1="549.1" y1="235.0" x2="558.9" y2="234.6" stroke="#74777e" stroke-width="2.4"/>
<circle cx="576.8" cy="60.4" r="6.66" fill="url(#gBr4)"/>
<line x1="529.3" y1="142.3" x2="520.5" y2="138.2" stroke="#9c643d" stroke-width="2.4"/>
<line x1="559.3" y1="143.2" x2="571.4" y2="139.7" stroke="#9c633c" stroke-width="2.4"/>
<circle cx="629.3" cy="240.0" r="6.66" fill="url(#gBr4)"/>
<line x1="544.8" y1="233.2" x2="541.6" y2="235.3" stroke="#3a3a3a" stroke-width="0.9"/>
<line x1="551.9" y1="55.3" x2="548.7" y2="57.3" stroke="#3a3a3a" stroke-width="0.9"/>
<line x1="664.6" y1="106.6" x2="665.2" y2="110.1" stroke="#7e563a" stroke-width="2.2"/>
<circle cx="688.7" cy="241.6" r="6.66" fill="url(#gBr3)"/>
<line x1="664.6" y1="99.8" x2="665.2" y2="97.2" stroke="#7d5539" stroke-width="2.2"/>
<line x1="663.9" y1="236.7" x2="660.8" y2="238.8" stroke="#3a3a3a" stroke-width="0.9"/>
<line x1="665.2" y1="110.1" x2="666.0" y2="115.1" stroke="#f2cfcf" stroke-width="2.2"/>
<line x1="670.7" y1="59.5" x2="667.6" y2="61.5" stroke="#3a3a3a" stroke-width="0.9"/>
<line x1="665.2" y1="97.2" x2="666.0" y2="93.4" stroke="#f2cece" stroke-width="2.2"/>
<circle cx="666.4" cy="117.6" r="2.59" fill="url(#gH3)"/>
<circle cx="544.0" cy="279.6" r="6.67" fill="url(#gBr3)"/>
<line x1="623.8" y1="60.0" x2="628.1" y2="64.6" stroke="#975b31" stroke-width="2.4"/>
<line x1="542.8" y1="257.4" x2="543.7" y2="272.9" stroke="#975b31" stroke-width="2.4"/>
<circle cx="666.5" cy="91.6" r="2.59" fill="url(#gH2)"/>
<line x1="529.7" y1="59.8" x2="520.9" y2="58.8" stroke="#965a30" stroke-width="2.4"/>
<line x1="536.3" y1="145.6" x2="529.3" y2="142.3" stroke="#6a6e75" stroke-width="2.4"/>
<line x1="542.1" y1="245.1" x2="542.8" y2="257.4" stroke="#6a6e75" stroke-width="2.4"/>
<line x1="559.6" y1="60.8" x2="571.8" y2="60.5" stroke="#965a30" stroke-width="2.4"/>
<line x1="549.5" y1="146.1" x2="559.3" y2="143.2" stroke="#6a6e75" stroke-width="2.4"/>
<circle cx="612.3" cy="192.4" r="2.59" fill="url(#gH2)"/>
<circle cx="541.6" cy="235.3" r="10.17" fill="url(#gPb2)"/>
<line x1="541.6" y1="235.3" x2="538.4" y2="237.5" stroke="#3a3a3a" stroke-width="0.9"/>
<line x1="642.0" y1="241.5" x2="633.1" y2="240.5" stroke="#95582e" stroke-width="2.4"/>
<line x1="541.0" y1="225.6" x2="540.3" y2="213.2" stroke="#696c74" stroke-width="2.4"/>
<line x1="548.7" y1="57.3" x2="545.5" y2="59.2" stroke="#3a3a3a" stroke-width="0.9"/>
<line x1="671.7" y1="242.4" x2="683.7" y2="241.8" stroke="#95582d" stroke-width="2.4"/>
<line x1="540.3" y1="213.2" x2="539.5" y2="197.8" stroke="#95572d" stroke-width="2.4"/>
<circle cx="629.6" cy="144.3" r="6.68" fill="url(#gBr2)"/>
<line x1="605.3" y1="193.0" x2="609.8" y2="192.6" stroke="#f1cccc" stroke-width="2.2"/>
<circle cx="590.7" cy="205.1" r="2.59" fill="url(#gH2)"/>
<circle cx="539.1" cy="191.1" r="6.68" fill="url(#gBr2)"/>
<circle cx="689.1" cy="146.2" r="6.68" fill="url(#gBr2)"/>
<line x1="660.8" y1="238.8" x2="657.8" y2="240.9" stroke="#3a3a3a" stroke-width="0.9"/>
<line x1="667.6" y1="61.5" x2="664.6" y2="63.5" stroke="#3a3a3a" stroke-width="0.9"/>
<line x1="594.6" y1="199.4" x2="592.1" y2="203.1" stroke="#f1cbcb" stroke-width="2.2"/>
<line x1="602.2" y1="193.3" x2="605.3" y2="193.0" stroke="#97a6da" stroke-width="2.2"/>
<circle cx="590.8" cy="180.4" r="2.59" fill="url(#gH1)"/>
<line x1="540.5" y1="169.7" x2="539.5" y2="184.7" stroke="#925429" stroke-width="2.4"/>
<line x1="596.3" y1="196.8" x2="594.6" y2="199.4" stroke="#96a5da" stroke-width="2.2"/>
<circle cx="611.2" cy="104.7" r="2.60" fill="url(#gH1)"/>
<line x1="594.6" y1="187.0" x2="592.1" y2="182.7" stroke="#f1cbcb" stroke-width="2.2"/>
<line x1="596.3" y1="190.0" x2="594.6" y2="187.0" stroke="#95a5da" stroke-width="2.2"/>
<circle cx="598.4" cy="193.7" r="4.19" fill="url(#gN1)"/>
<line x1="541.3" y1="157.7" x2="540.5" y2="169.7" stroke="#63676e" stroke-width="2.4"/>
<line x1="603.9" y1="105.3" x2="608.8" y2="104.9" stroke="#f1caca" stroke-width="2.2"/>
<circle cx="588.4" cy="117.9" r="2.60" fill="url(#gH1)"/>
<line x1="536.7" y1="60.6" x2="529.7" y2="59.8" stroke="#62656d" stroke-width="2.4"/>
<line x1="549.9" y1="61.0" x2="559.6" y2="60.8" stroke="#61656d" stroke-width="2.4"/>
<line x1="592.5" y1="111.9" x2="589.8" y2="115.9" stroke="#f0caca" stroke-width="2.2"/>
<line x1="600.4" y1="105.6" x2="603.9" y2="105.3" stroke="#6e4122" stroke-width="2.2"/>
<circle cx="542.0" cy="148.2" r="10.19" fill="url(#gPb1)"/>
<line x1="538.4" y1="237.5" x2="535.2" y2="239.6" stroke="#3a3a3a" stroke-width="0.9"/>
<circle cx="630.0" cy="66.5" r="6.70" fill="url(#gBr1)"/>
<line x1="649.0" y1="242.4" x2="642.0" y2="241.5" stroke="#60646b" stroke-width="2.4"/>
<circle cx="588.5" cy="91.8" r="2.60" fill="url(#gH1)"/>
<line x1="545.5" y1="59.2" x2="542.4" y2="61.2" stroke="#3a3a3a" stroke-width="0.9"/>
<line x1="534.1" y1="235.6" x2="524.2" y2="236.0" stroke="#5f636b" stroke-width="2.4"/>
<line x1="594.4" y1="109.0" x2="592.5" y2="111.9" stroke="#6d4021" stroke-width="2.2"/>
<line x1="662.1" y1="242.8" x2="671.7" y2="242.4" stroke="#5f636b" stroke-width="2.4"/>
<line x1="547.2" y1="236.0" x2="554.3" y2="236.9" stroke="#5f636b" stroke-width="2.4"/>
<circle cx="689.4" cy="68.6" r="6.70" fill="url(#gBr0)"/>
<line x1="592.6" y1="98.9" x2="589.9" y2="94.2" stroke="#f0c9c9" stroke-width="2.2"/>
<line x1="642.3" y1="150.3" x2="633.5" y2="146.1" stroke="#8e4d20" stroke-width="2.4"/>
<line x1="672.1" y1="151.2" x2="684.1" y2="147.7" stroke="#8e4d1f" stroke-width="2.4"/>
<line x1="594.5" y1="102.2" x2="592.6" y2="98.9" stroke="#6c3f1f" stroke-width="2.2"/>
<line x1="542.6" y1="138.8" x2="543.4" y2="126.8" stroke="#5e626a" stroke-width="2.4"/>
<line x1="657.8" y1="240.9" x2="654.7" y2="243.1" stroke="#3a3a3a" stroke-width="0.9"/>
<circle cx="596.6" cy="105.9" r="4.30" fill="url(#gC0)"/>
<line x1="664.6" y1="63.5" x2="661.5" y2="65.4" stroke="#3a3a3a" stroke-width="0.9"/>
<line x1="599.5" y1="196.2" x2="598.8" y2="194.5" stroke="#90a0d8" stroke-width="2.2"/>
<line x1="543.4" y1="126.8" x2="544.4" y2="111.8" stroke="#8c4a1c" stroke-width="2.4"/>
<circle cx="544.8" cy="105.4" r="6.71" fill="url(#gBr0)"/>
<line x1="543.6" y1="83.3" x2="544.5" y2="98.7" stroke="#8c4a1c" stroke-width="2.4"/>
<line x1="542.9" y1="70.9" x2="543.6" y2="83.3" stroke="#5c6068" stroke-width="2.4"/>
<circle cx="657.2" cy="287.2" r="6.71" fill="url(#gBr0)"/>
<circle cx="542.4" cy="61.2" r="10.22" fill="url(#gPb0)"/>
<line x1="535.2" y1="239.6" x2="532.0" y2="241.7" stroke="#3a3a3a" stroke-width="0.9"/>
<line x1="655.9" y1="265.1" x2="656.8" y2="280.6" stroke="#8c4a1c" stroke-width="2.4"/>
<line x1="596.9" y1="106.7" x2="597.6" y2="108.3" stroke="#6a3c1c" stroke-width="2.2"/>
<line x1="534.4" y1="150.4" x2="524.6" y2="153.3" stroke="#5c6068" stroke-width="2.4"/>
<line x1="542.4" y1="61.2" x2="539.2" y2="63.2" stroke="#3a3a3a" stroke-width="0.9"/>
<line x1="524.2" y1="236.0" x2="512.0" y2="236.5" stroke="#8c4a1c" stroke-width="2.4"/>
<line x1="642.6" y1="68.0" x2="633.8" y2="67.0" stroke="#8c4a1c" stroke-width="2.4"/>
<line x1="541.8" y1="51.5" x2="541.1" y2="39.2" stroke="#5c6068" stroke-width="2.4"/>
<line x1="547.6" y1="150.9" x2="554.6" y2="154.2" stroke="#5c6068" stroke-width="2.4"/>
<line x1="649.4" y1="153.6" x2="642.3" y2="150.3" stroke="#5c6068" stroke-width="2.4"/>
<line x1="655.2" y1="252.8" x2="655.9" y2="265.1" stroke="#5c6068" stroke-width="2.4"/>
<line x1="554.3" y1="236.9" x2="563.1" y2="238.0" stroke="#8c4a1c" stroke-width="2.4"/>
<line x1="672.4" y1="69.0" x2="684.3" y2="68.7" stroke="#8c4a1c" stroke-width="2.4"/>
<line x1="662.4" y1="154.0" x2="672.1" y2="151.2" stroke="#5c6068" stroke-width="2.4"/>
<line x1="600.2" y1="197.8" x2="599.5" y2="196.2" stroke="#6a3c1c" stroke-width="2.2"/>
<line x1="541.1" y1="39.2" x2="540.3" y2="23.7" stroke="#8c4a1c" stroke-width="2.4"/>
<circle cx="654.7" cy="243.1" r="10.23" fill="url(#gPb0)"/>
<circle cx="539.9" cy="17.1" r="6.72" fill="url(#gBr0)"/>
<line x1="654.7" y1="243.1" x2="651.6" y2="245.2" stroke="#3a3a3a" stroke-width="0.9"/>
<line x1="654.1" y1="233.3" x2="653.4" y2="221.0" stroke="#5c6068" stroke-width="2.4"/>
<line x1="661.5" y1="65.4" x2="658.4" y2="67.4" stroke="#3a3a3a" stroke-width="0.9"/>
<line x1="653.4" y1="221.0" x2="652.6" y2="205.6" stroke="#8c4a1c" stroke-width="2.4"/>
<circle cx="652.2" cy="199.0" r="6.72" fill="url(#gBr0)"/>
<line x1="653.6" y1="177.6" x2="652.6" y2="192.5" stroke="#8c4a1c" stroke-width="2.4"/>
<line x1="597.6" y1="108.3" x2="598.3" y2="109.9" stroke="#90a0d8" stroke-width="2.2"/>
<circle cx="600.6" cy="198.6" r="4.32" fill="url(#gC0)"/>
<line x1="654.4" y1="165.6" x2="653.6" y2="177.6" stroke="#5c6068" stroke-width="2.4"/>
<line x1="602.7" y1="202.3" x2="604.6" y2="205.7" stroke="#6a3c1c" stroke-width="2.2"/>
<line x1="524.6" y1="153.3" x2="512.3" y2="156.8" stroke="#8c4a1c" stroke-width="2.4"/>
<line x1="532.0" y1="241.7" x2="528.8" y2="243.9" stroke="#3a3a3a" stroke-width="0.9"/>
<line x1="554.6" y1="154.2" x2="563.5" y2="158.3" stroke="#8c4a1c" stroke-width="2.4"/>
<line x1="539.2" y1="63.2" x2="536.0" y2="65.2" stroke="#3a3a3a" stroke-width="0.9"/>
<line x1="604.6" y1="205.7" x2="607.3" y2="210.4" stroke="#f0c8c8" stroke-width="2.2"/>
<circle cx="506.8" cy="236.7" r="6.74" fill="url(#gBr0)"/>
<line x1="649.7" y1="68.8" x2="642.6" y2="68.0" stroke="#5c6068" stroke-width="2.4"/>
<line x1="534.9" y1="61.4" x2="525.0" y2="61.6" stroke="#5c6068" stroke-width="2.4"/>
<line x1="602.7" y1="195.5" x2="604.6" y2="192.6" stroke="#6a3c1c" stroke-width="2.2"/>
<line x1="662.7" y1="69.2" x2="672.4" y2="69.0" stroke="#5c6068" stroke-width="2.4"/>
<circle cx="608.6" cy="212.7" r="2.61" fill="url(#gH0)"/>
<line x1="548.0" y1="61.9" x2="555.0" y2="62.7" stroke="#5c6068" stroke-width="2.4"/>
<circle cx="567.0" cy="238.4" r="6.74" fill="url(#gBr0)"/>
<circle cx="655.0" cy="156.2" r="10.26" fill="url(#gPb0)"/>
<line x1="596.7" y1="199.0" x2="593.2" y2="199.3" stroke="#6a3c1c" stroke-width="2.2"/>
<line x1="604.6" y1="192.6" x2="607.4" y2="188.6" stroke="#f0c8c8" stroke-width="2.2"/>
<line x1="651.6" y1="245.2" x2="648.5" y2="247.3" stroke="#3a3a3a" stroke-width="0.9"/>
<line x1="658.4" y1="67.4" x2="655.3" y2="69.4" stroke="#3a3a3a" stroke-width="0.9"/>
<line x1="647.3" y1="243.4" x2="637.6" y2="243.8" stroke="#5c6068" stroke-width="2.4"/>
<line x1="660.3" y1="243.8" x2="667.4" y2="244.6" stroke="#5c6068" stroke-width="2.4"/>
<circle cx="608.7" cy="186.6" r="2.62" fill="url(#gH0)"/>
<line x1="593.2" y1="199.3" x2="588.3" y2="199.8" stroke="#f0c8c8" stroke-width="2.2"/>
<line x1="655.6" y1="146.8" x2="656.4" y2="134.8" stroke="#5c6068" stroke-width="2.4"/>
<circle cx="598.7" cy="110.7" r="4.23" fill="url(#gN0)"/>
<line x1="600.8" y1="114.4" x2="602.5" y2="117.4" stroke="#90a0d8" stroke-width="2.2"/>
<line x1="602.5" y1="117.4" x2="605.0" y2="121.7" stroke="#f0c8c8" stroke-width="2.2"/>
<circle cx="585.9" cy="200.0" r="2.62" fill="url(#gH0)"/>
<line x1="600.9" y1="107.6" x2="602.6" y2="105.0" stroke="#90a0d8" stroke-width="2.2"/>
<line x1="656.4" y1="134.8" x2="657.4" y2="119.8" stroke="#8c4a1c" stroke-width="2.4"/>
<circle cx="606.3" cy="124.0" r="2.62" fill="url(#gH0)"/>
<line x1="594.9" y1="111.1" x2="591.8" y2="111.3" stroke="#90a0d8" stroke-width="2.2"/>
<line x1="602.6" y1="105.0" x2="605.1" y2="101.3" stroke="#f0c8c8" stroke-width="2.2"/>
<circle cx="507.2" cy="158.3" r="6.75" fill="url(#gBr0)"/>
<circle cx="657.8" cy="113.4" r="6.75" fill="url(#gBr0)"/>
<line x1="528.8" y1="243.9" x2="525.6" y2="246.0" stroke="#3a3a3a" stroke-width="0.9"/>
<circle cx="606.4" cy="99.3" r="2.62" fill="url(#gH0)"/>
<line x1="591.8" y1="111.3" x2="587.3" y2="111.7" stroke="#f0c8c8" stroke-width="2.2"/>
<line x1="536.0" y1="65.2" x2="532.8" y2="67.2" stroke="#3a3a3a" stroke-width="0.9"/>
<circle cx="567.3" cy="160.1" r="6.75" fill="url(#gBr0)"/>
<line x1="656.6" y1="91.4" x2="657.5" y2="106.8" stroke="#8c4a1c" stroke-width="2.4"/>
<line x1="525.0" y1="61.6" x2="512.8" y2="61.9" stroke="#8c4a1c" stroke-width="2.4"/>
<line x1="655.9" y1="79.1" x2="656.6" y2="91.4" stroke="#5c6068" stroke-width="2.4"/>
<line x1="555.0" y1="62.7" x2="563.9" y2="63.7" stroke="#8c4a1c" stroke-width="2.4"/>
<circle cx="655.3" cy="69.4" r="10.29" fill="url(#gPb0)"/>
<line x1="648.5" y1="247.3" x2="645.4" y2="249.5" stroke="#3a3a3a" stroke-width="0.9"/>
<circle cx="584.8" cy="111.9" r="2.62" fill="url(#gH0)"/>
<line x1="647.6" y1="158.4" x2="637.9" y2="161.2" stroke="#5c6068" stroke-width="2.4"/>
<line x1="655.3" y1="69.4" x2="652.3" y2="71.4" stroke="#3a3a3a" stroke-width="0.9"/>
<line x1="637.6" y1="243.8" x2="625.5" y2="244.3" stroke="#8c4a1c" stroke-width="2.4"/>
<line x1="654.8" y1="59.7" x2="654.1" y2="47.4" stroke="#5c6068" stroke-width="2.4"/>
<line x1="660.7" y1="158.8" x2="667.7" y2="162.1" stroke="#5c6068" stroke-width="2.4"/>
<line x1="667.4" y1="244.6" x2="676.3" y2="245.7" stroke="#8c4a1c" stroke-width="2.4"/>
<circle cx="530.0" cy="213.5" r="2.62" fill="url(#gH0)"/>
<line x1="654.1" y1="47.4" x2="653.2" y2="32.0" stroke="#8c4a1c" stroke-width="2.4"/>
<line x1="573.1" y1="245.2" x2="568.8" y2="240.4" stroke="#8c4a1c" stroke-width="2.4"/>
<circle cx="652.8" cy="25.4" r="6.76" fill="url(#gBr0)"/>
<circle cx="530.1" cy="187.2" r="2.63" fill="url(#gH0)"/>
<line x1="531.2" y1="207.8" x2="530.4" y2="211.6" stroke="#f0c8c8" stroke-width="2.2"/>
<line x1="531.3" y1="194.7" x2="530.5" y2="189.7" stroke="#f0c8c8" stroke-width="2.2"/>
<line x1="531.8" y1="205.2" x2="531.2" y2="207.8" stroke="#6a3c1c" stroke-width="2.2"/>
<line x1="525.6" y1="246.0" x2="522.4" y2="248.1" stroke="#3a3a3a" stroke-width="0.9"/>
<line x1="532.8" y1="67.2" x2="529.6" y2="69.2" stroke="#3a3a3a" stroke-width="0.9"/>
<circle cx="507.6" cy="62.0" r="6.77" fill="url(#gBr0)"/>
<line x1="531.9" y1="198.3" x2="531.3" y2="194.7" stroke="#6a3c1c" stroke-width="2.2"/>
<circle cx="567.7" cy="64.1" r="6.77" fill="url(#gBr0)"/>
<line x1="637.9" y1="161.2" x2="625.8" y2="164.8" stroke="#8c4a1c" stroke-width="2.4"/>
<line x1="645.4" y1="249.5" x2="642.3" y2="251.6" stroke="#3a3a3a" stroke-width="0.9"/>
<line x1="667.7" y1="162.1" x2="676.6" y2="166.3" stroke="#8c4a1c" stroke-width="2.4"/>
<line x1="652.3" y1="71.4" x2="649.2" y2="73.4" stroke="#3a3a3a" stroke-width="0.9"/>
<circle cx="620.4" cy="244.5" r="6.78" fill="url(#gBr0)"/>
<line x1="647.9" y1="69.6" x2="638.3" y2="69.8" stroke="#5c6068" stroke-width="2.4"/>
<line x1="573.5" y1="162.4" x2="569.1" y2="160.8" stroke="#8c4a1c" stroke-width="2.4"/>
<circle cx="532.5" cy="202.2" r="4.35" fill="url(#gC0)"/>
<line x1="661.0" y1="70.0" x2="668.1" y2="70.8" stroke="#5c6068" stroke-width="2.4"/>
<circle cx="680.2" cy="246.2" r="6.78" fill="url(#gBr0)"/>
<line x1="536.5" y1="202.6" x2="540.1" y2="202.8" stroke="#6a3c1c" stroke-width="2.2"/>
<line x1="522.4" y1="248.1" x2="522.4" y2="233.5" stroke="#3a3a3a" stroke-width="0.9"/>
<line x1="522.4" y1="248.1" x2="531.9" y2="248.8" stroke="#3a3a3a" stroke-width="0.9"/>
<line x1="540.1" y1="202.8" x2="545.2" y2="203.3" stroke="#f0c8c8" stroke-width="2.2"/>
<line x1="576.6" y1="249.1" x2="573.1" y2="245.2" stroke="#5c6068" stroke-width="2.4"/>
<circle cx="526.2" cy="125.9" r="2.63" fill="url(#gH0)"/>
<circle cx="547.7" cy="203.5" r="2.63" fill="url(#gH0)"/>
<line x1="522.4" y1="233.5" x2="522.5" y2="219.0" stroke="#3a3a3a" stroke-width="0.9"/>
<line x1="531.9" y1="248.8" x2="541.3" y2="249.4" stroke="#3a3a3a" stroke-width="0.9"/>
<line x1="599.9" y1="248.3" x2="614.2" y2="245.6" stroke="#8c4a1c" stroke-width="2.4"/>
<line x1="522.5" y1="219.0" x2="522.6" y2="204.4" stroke="#3a3a3a" stroke-width="0.9"/>
<line x1="541.3" y1="249.4" x2="550.8" y2="250.1" stroke="#3a3a3a" stroke-width="0.9"/>
<circle cx="526.3" cy="101.1" r="2.64" fill="url(#gH0)"/>
<line x1="529.7" y1="202.9" x2="524.7" y2="204.1" stroke="#6a3c1c" stroke-width="2.2"/>
<line x1="527.4" y1="120.6" x2="526.6" y2="124.1" stroke="#f0c8c8" stroke-width="2.2"/>
<line x1="529.6" y1="69.2" x2="526.4" y2="71.2" stroke="#3a3a3a" stroke-width="0.9"/>
<line x1="522.6" y1="204.4" x2="522.6" y2="189.8" stroke="#3a3a3a" stroke-width="0.9"/>
<line x1="550.8" y1="250.1" x2="560.3" y2="250.7" stroke="#3a3a3a" stroke-width="0.9"/>
<circle cx="620.7" cy="166.2" r="6.79" fill="url(#gBr0)"/>
<line x1="527.4" y1="108.2" x2="526.7" y2="103.6" stroke="#f0c8c8" stroke-width="2.2"/>
<line x1="642.3" y1="251.6" x2="639.2" y2="253.7" stroke="#3a3a3a" stroke-width="0.9"/>
<line x1="522.6" y1="189.8" x2="522.7" y2="175.2" stroke="#3a3a3a" stroke-width="0.9"/>
<line x1="527.9" y1="118.2" x2="527.4" y2="120.6" stroke="#90a0d8" stroke-width="2.2"/>
<line x1="649.2" y1="73.4" x2="646.1" y2="75.4" stroke="#3a3a3a" stroke-width="0.9"/>
<circle cx="680.4" cy="168.1" r="6.80" fill="url(#gBr0)"/>
<line x1="638.3" y1="69.8" x2="626.2" y2="70.1" stroke="#8c4a1c" stroke-width="2.4"/>
<line x1="560.3" y1="250.7" x2="569.8" y2="251.4" stroke="#3a3a3a" stroke-width="0.9"/>
<line x1="668.1" y1="70.8" x2="676.9" y2="71.8" stroke="#8c4a1c" stroke-width="2.4"/>
<line x1="527.9" y1="111.4" x2="527.4" y2="108.2" stroke="#90a0d8" stroke-width="2.2"/>
<circle cx="583.0" cy="295.6" r="6.80" fill="url(#gBr0)"/>
<line x1="588.4" y1="250.3" x2="599.9" y2="248.3" stroke="#5c6068" stroke-width="2.4"/>
<line x1="573.9" y1="70.7" x2="569.5" y2="66.0" stroke="#8c4a1c" stroke-width="2.4"/>
<line x1="522.7" y1="175.2" x2="522.8" y2="160.6" stroke="#3a3a3a" stroke-width="0.9"/>
<line x1="569.8" y1="251.4" x2="579.3" y2="252.0" stroke="#3a3a3a" stroke-width="0.9"/>
<line x1="522.8" y1="160.6" x2="522.8" y2="146.0" stroke="#3a3a3a" stroke-width="0.9"/>
<line x1="524.7" y1="204.1" x2="519.7" y2="205.4" stroke="#90a0d8" stroke-width="2.2"/>
<line x1="581.2" y1="273.8" x2="582.5" y2="289.0" stroke="#8c4a1c" stroke-width="2.4"/>
<line x1="577.0" y1="163.6" x2="573.5" y2="162.4" stroke="#5c6068" stroke-width="2.4"/>
<circle cx="528.6" cy="115.3" r="4.26" fill="url(#gN0)"/>
<line x1="579.3" y1="252.0" x2="588.8" y2="252.7" stroke="#3a3a3a" stroke-width="0.9"/>
<line x1="532.6" y1="115.6" x2="535.8" y2="115.9" stroke="#90a0d8" stroke-width="2.2"/>
<line x1="522.8" y1="146.0" x2="522.9" y2="131.4" stroke="#3a3a3a" stroke-width="0.9"/>
<line x1="600.2" y1="165.4" x2="614.5" y2="166.0" stroke="#8c4a1c" stroke-width="2.4"/>
<line x1="580.1" y1="261.6" x2="581.2" y2="273.8" stroke="#5c6068" stroke-width="2.4"/>
<line x1="535.8" y1="115.9" x2="540.5" y2="116.3" stroke="#f0c8c8" stroke-width="2.2"/>
<line x1="588.8" y1="252.7" x2="598.2" y2="253.3" stroke="#3a3a3a" stroke-width="0.9"/>
<circle cx="502.5" cy="204.9" r="2.64" fill="url(#gH0)"/>
<line x1="522.9" y1="131.4" x2="523.0" y2="116.9" stroke="#3a3a3a" stroke-width="0.9"/>
<circle cx="543.0" cy="116.5" r="2.64" fill="url(#gH0)"/>
<line x1="509.7" y1="205.4" x2="505.0" y2="205.1" stroke="#f0c8c8" stroke-width="2.2"/>
<line x1="526.4" y1="71.2" x2="523.2" y2="73.2" stroke="#3a3a3a" stroke-width="0.9"/>
<circle cx="579.3" cy="252.0" r="10.37" fill="url(#gPb0)"/>
<line x1="598.2" y1="253.3" x2="607.7" y2="253.9" stroke="#3a3a3a" stroke-width="0.9"/>
<line x1="523.0" y1="116.9" x2="523.0" y2="102.3" stroke="#3a3a3a" stroke-width="0.9"/>
<line x1="512.9" y1="205.7" x2="509.7" y2="205.4" stroke="#90a0d8" stroke-width="2.2"/>
<line x1="639.2" y1="253.7" x2="636.1" y2="255.9" stroke="#3a3a3a" stroke-width="0.9"/>
<circle cx="516.9" cy="206.0" r="4.27" fill="url(#gN0)"/>
<line x1="646.1" y1="75.4" x2="643.0" y2="77.3" stroke="#3a3a3a" stroke-width="0.9"/>
<line x1="607.7" y1="253.9" x2="617.2" y2="254.6" stroke="#3a3a3a" stroke-width="0.9"/>
<line x1="520.8" y1="117.1" x2="525.8" y2="115.9" stroke="#90a0d8" stroke-width="2.2"/>
<line x1="523.0" y1="102.3" x2="523.1" y2="87.7" stroke="#3a3a3a" stroke-width="0.9"/>
<line x1="578.5" y1="242.4" x2="577.4" y2="230.2" stroke="#5c6068" stroke-width="2.4"/>
<circle cx="621.1" cy="70.2" r="6.82" fill="url(#gBr0)"/>
<line x1="588.8" y1="165.0" x2="600.2" y2="165.4" stroke="#5c6068" stroke-width="2.4"/>
<circle cx="680.8" cy="72.3" r="6.82" fill="url(#gBr0)"/>
<line x1="523.1" y1="87.7" x2="523.2" y2="73.2" stroke="#3a3a3a" stroke-width="0.9"/>
<line x1="617.2" y1="254.6" x2="626.6" y2="255.2" stroke="#3a3a3a" stroke-width="0.9"/>
<line x1="577.4" y1="230.2" x2="576.1" y2="215.0" stroke="#8c4a1c" stroke-width="2.4"/>
<line x1="517.6" y1="210.0" x2="518.1" y2="213.1" stroke="#90a0d8" stroke-width="2.2"/>
<line x1="523.2" y1="73.2" x2="532.7" y2="73.8" stroke="#3a3a3a" stroke-width="0.9"/>
<line x1="517.6" y1="203.1" x2="518.1" y2="200.7" stroke="#90a0d8" stroke-width="2.2"/>
<line x1="626.6" y1="255.2" x2="636.1" y2="255.9" stroke="#3a3a3a" stroke-width="0.9"/>
<line x1="577.4" y1="74.4" x2="573.9" y2="70.7" stroke="#5c6068" stroke-width="2.4"/>
<line x1="570.1" y1="253.7" x2="558.6" y2="255.8" stroke="#5c6068" stroke-width="2.4"/>
<circle cx="575.5" cy="208.5" r="6.82" fill="url(#gBr0)"/>
<line x1="518.1" y1="213.1" x2="518.8" y2="217.8" stroke="#f0c8c8" stroke-width="2.2"/>
<line x1="532.7" y1="73.8" x2="542.1" y2="74.5" stroke="#3a3a3a" stroke-width="0.9"/>
<line x1="577.6" y1="186.5" x2="576.2" y2="201.9" stroke="#8c4a1c" stroke-width="2.4"/>
<line x1="636.1" y1="255.9" x2="636.1" y2="241.3" stroke="#3a3a3a" stroke-width="0.9"/>
<line x1="600.6" y1="73.7" x2="614.9" y2="71.3" stroke="#8c4a1c" stroke-width="2.4"/>
<line x1="518.1" y1="200.7" x2="518.9" y2="197.3" stroke="#f0c8c8" stroke-width="2.2"/>
<line x1="515.8" y1="118.3" x2="520.8" y2="117.1" stroke="#6a3c1c" stroke-width="2.2"/>
<circle cx="519.2" cy="220.3" r="2.65" fill="url(#gH0)"/>
<circle cx="639.7" cy="134.0" r="2.65" fill="url(#gH0)"/>
<line x1="578.8" y1="174.3" x2="577.6" y2="186.5" stroke="#5c6068" stroke-width="2.4"/>
<line x1="636.1" y1="241.3" x2="636.2" y2="226.8" stroke="#3a3a3a" stroke-width="0.9"/>
<line x1="542.1" y1="74.5" x2="551.6" y2="75.2" stroke="#3a3a3a" stroke-width="0.9"/>
<circle cx="579.7" cy="164.6" r="10.40" fill="url(#gPb0)"/>
<line x1="636.2" y1="226.8" x2="636.2" y2="212.2" stroke="#3a3a3a" stroke-width="0.9"/>
<circle cx="497.7" cy="117.6" r="2.65" fill="url(#gH0)"/>
<line x1="551.6" y1="75.2" x2="561.1" y2="75.9" stroke="#3a3a3a" stroke-width="0.9"/>
<line x1="580.6" y1="154.9" x2="581.7" y2="142.7" stroke="#5c6068" stroke-width="2.4"/>
<circle cx="519.3" cy="195.4" r="2.65" fill="url(#gH0)"/>
<circle cx="639.8" cy="109.2" r="2.65" fill="url(#gH0)"/>
<line x1="640.9" y1="128.7" x2="640.1" y2="132.1" stroke="#f0c8c8" stroke-width="2.2"/>
<line x1="558.6" y1="255.8" x2="544.2" y2="258.4" stroke="#8c4a1c" stroke-width="2.4"/>
<line x1="643.0" y1="77.3" x2="639.9" y2="79.3" stroke="#3a3a3a" stroke-width="0.9"/>
<line x1="505.4" y1="118.3" x2="500.3" y2="117.9" stroke="#f0c8c8" stroke-width="2.2"/>
<line x1="581.7" y1="142.7" x2="583.2" y2="127.3" stroke="#8c4a1c" stroke-width="2.4"/>
<line x1="636.2" y1="212.2" x2="636.3" y2="197.7" stroke="#3a3a3a" stroke-width="0.9"/>
<line x1="561.1" y1="75.9" x2="570.6" y2="76.6" stroke="#3a3a3a" stroke-width="0.9"/>
<line x1="509.0" y1="118.6" x2="505.4" y2="118.3" stroke="#6a3c1c" stroke-width="2.2"/>
<line x1="640.9" y1="116.3" x2="640.2" y2="111.7" stroke="#f0c8c8" stroke-width="2.2"/>
<circle cx="583.8" cy="120.7" r="6.84" fill="url(#gBr0)"/>
<line x1="589.2" y1="75.7" x2="600.6" y2="73.7" stroke="#5c6068" stroke-width="2.4"/>
<line x1="582.0" y1="255.0" x2="585.5" y2="258.8" stroke="#5c6068" stroke-width="2.4"/>
<line x1="636.3" y1="197.7" x2="636.4" y2="183.1" stroke="#3a3a3a" stroke-width="0.9"/>
<line x1="641.4" y1="126.3" x2="640.9" y2="128.7" stroke="#90a0d8" stroke-width="2.2"/>
<circle cx="513.0" cy="118.9" r="4.39" fill="url(#gC0)"/>
<line x1="570.6" y1="76.6" x2="580.0" y2="77.3" stroke="#3a3a3a" stroke-width="0.9"/>
<line x1="641.4" y1="119.4" x2="640.9" y2="116.3" stroke="#90a0d8" stroke-width="2.2"/>
<line x1="581.9" y1="99.0" x2="583.2" y2="114.2" stroke="#8c4a1c" stroke-width="2.4"/>
<line x1="636.4" y1="183.1" x2="636.4" y2="168.6" stroke="#3a3a3a" stroke-width="0.9"/>
<line x1="580.0" y1="77.3" x2="589.5" y2="77.9" stroke="#3a3a3a" stroke-width="0.9"/>
<line x1="570.5" y1="164.2" x2="559.0" y2="163.8" stroke="#5c6068" stroke-width="2.4"/>
<line x1="513.6" y1="122.8" x2="514.2" y2="126.4" stroke="#6a3c1c" stroke-width="2.2"/>
<circle cx="537.9" cy="259.6" r="6.84" fill="url(#gBr0)"/>
<line x1="636.4" y1="168.6" x2="636.5" y2="154.0" stroke="#3a3a3a" stroke-width="0.9"/>
<line x1="580.9" y1="86.8" x2="581.9" y2="99.0" stroke="#5c6068" stroke-width="2.4"/>
<circle cx="642.1" cy="123.3" r="4.29" fill="url(#gN0)"/>
<line x1="513.7" y1="116.0" x2="514.3" y2="113.3" stroke="#6a3c1c" stroke-width="2.2"/>
<line x1="589.5" y1="77.9" x2="599.0" y2="78.6" stroke="#3a3a3a" stroke-width="0.9"/>
<line x1="514.2" y1="126.4" x2="515.0" y2="131.4" stroke="#f0c8c8" stroke-width="2.2"/>
<line x1="646.1" y1="123.7" x2="649.3" y2="123.9" stroke="#90a0d8" stroke-width="2.2"/>
<line x1="636.5" y1="154.0" x2="636.5" y2="139.5" stroke="#3a3a3a" stroke-width="0.9"/>
<circle cx="580.0" cy="77.3" r="10.43" fill="url(#gPb0)"/>
<line x1="649.3" y1="123.9" x2="653.9" y2="124.3" stroke="#f0c8c8" stroke-width="2.2"/>
<line x1="599.0" y1="78.6" x2="608.4" y2="79.3" stroke="#3a3a3a" stroke-width="0.9"/>
<line x1="636.5" y1="139.5" x2="636.6" y2="124.9" stroke="#3a3a3a" stroke-width="0.9"/>
<line x1="514.3" y1="113.3" x2="515.1" y2="109.5" stroke="#f0c8c8" stroke-width="2.2"/>
<circle cx="656.4" cy="124.5" r="2.66" fill="url(#gH0)"/>
<circle cx="515.4" cy="133.9" r="2.66" fill="url(#gH0)"/>
<line x1="639.9" y1="79.3" x2="636.8" y2="81.3" stroke="#3a3a3a" stroke-width="0.9"/>
<line x1="608.4" y1="79.3" x2="617.9" y2="80.0" stroke="#3a3a3a" stroke-width="0.9"/>
<line x1="579.2" y1="67.7" x2="578.2" y2="55.5" stroke="#5c6068" stroke-width="2.4"/>
<line x1="559.0" y1="163.8" x2="544.6" y2="163.2" stroke="#8c4a1c" stroke-width="2.4"/>
<line x1="636.6" y1="124.9" x2="636.6" y2="110.4" stroke="#3a3a3a" stroke-width="0.9"/>
<line x1="617.9" y1="80.0" x2="627.3" y2="80.7" stroke="#3a3a3a" stroke-width="0.9"/>
<line x1="582.3" y1="165.6" x2="585.9" y2="166.8" stroke="#5c6068" stroke-width="2.4"/>
<line x1="578.2" y1="55.5" x2="576.8" y2="40.3" stroke="#8c4a1c" stroke-width="2.4"/>
<line x1="634.5" y1="125.2" x2="639.4" y2="124.0" stroke="#90a0d8" stroke-width="2.2"/>
<line x1="636.6" y1="110.4" x2="636.7" y2="95.9" stroke="#3a3a3a" stroke-width="0.9"/>
<circle cx="515.5" cy="107.6" r="2.66" fill="url(#gH0)"/>
<line x1="627.3" y1="80.7" x2="636.8" y2="81.3" stroke="#3a3a3a" stroke-width="0.9"/>
<line x1="636.7" y1="95.9" x2="636.8" y2="81.3" stroke="#3a3a3a" stroke-width="0.9"/>
<line x1="585.5" y1="258.8" x2="589.8" y2="263.7" stroke="#8c4a1c" stroke-width="2.4"/>
<line x1="570.9" y1="78.8" x2="559.4" y2="80.8" stroke="#5c6068" stroke-width="2.4"/>
<circle cx="576.3" cy="33.8" r="6.86" fill="url(#gBr0)"/>
<circle cx="538.4" cy="162.9" r="6.86" fill="url(#gBr0)"/>
<line x1="629.5" y1="126.3" x2="634.5" y2="125.2" stroke="#6a3c1c" stroke-width="2.2"/>
<line x1="559.4" y1="80.8" x2="545.0" y2="83.2" stroke="#8c4a1c" stroke-width="2.4"/>
<circle cx="611.6" cy="125.7" r="2.67" fill="url(#gH0)"/>
<line x1="582.7" y1="80.1" x2="586.2" y2="83.9" stroke="#5c6068" stroke-width="2.4"/>
<line x1="619.2" y1="126.4" x2="614.1" y2="125.9" stroke="#f0c8c8" stroke-width="2.2"/>
<line x1="622.8" y1="126.7" x2="619.2" y2="126.4" stroke="#6a3c1c" stroke-width="2.2"/>
<circle cx="626.8" cy="127.0" r="4.42" fill="url(#gC0)"/>
<line x1="585.9" y1="166.8" x2="590.2" y2="168.4" stroke="#8c4a1c" stroke-width="2.4"/>
<circle cx="538.7" cy="84.3" r="6.88" fill="url(#gBr0)"/>
<circle cx="591.7" cy="265.7" r="6.88" fill="url(#gBr0)"/>
<line x1="627.4" y1="130.9" x2="628.0" y2="134.5" stroke="#6a3c1c" stroke-width="2.2"/>
<line x1="627.5" y1="124.0" x2="628.1" y2="121.4" stroke="#6a3c1c" stroke-width="2.2"/>
<line x1="628.0" y1="134.5" x2="628.8" y2="139.5" stroke="#f0c8c8" stroke-width="2.2"/>
<line x1="628.1" y1="121.4" x2="628.9" y2="117.6" stroke="#f0c8c8" stroke-width="2.2"/>
<circle cx="629.2" cy="142.0" r="2.67" fill="url(#gH0)"/>
<line x1="586.2" y1="83.9" x2="590.6" y2="88.5" stroke="#8c4a1c" stroke-width="2.4"/>
<circle cx="629.3" cy="115.7" r="2.68" fill="url(#gH0)"/>
<circle cx="592.1" cy="169.1" r="6.90" fill="url(#gBr0)"/>
<circle cx="592.4" cy="90.5" r="6.92" fill="url(#gBr0)"/></g>
<text x="447.6" y="24.2" font-size="20" fill="#000">b</text>
<defs>
<linearGradient id="gG" x1="0" x2="1" y1="0" y2="0"><stop offset="0" stop-color="#00a800"/><stop offset="0.45" stop-color="#50ff50"/><stop offset="1" stop-color="#00a000"/></linearGradient>
<linearGradient id="gR" x1="0" x2="0" y1="0" y2="1"><stop offset="0" stop-color="#c00000"/><stop offset="0.4" stop-color="#ff3030"/><stop offset="1" stop-color="#b00000"/></linearGradient>
<radialGradient id="gO" cx="0.5" cy="0.5" r="0.5"><stop offset="0" stop-color="#ffffff"/><stop offset="0.5" stop-color="#e0e0e0"/><stop offset="1" stop-color="#909090"/></radialGradient>
<radialGradient id="gB" cx="0.5" cy="0.5" r="0.5"><stop offset="0" stop-color="#5a5aff"/><stop offset="0.35" stop-color="#1010d0"/><stop offset="1" stop-color="#00007a"/></radialGradient>
</defs>
<rect x="440.1" y="233" width="4.3" height="32" fill="url(#gG)"/>
<path d="M435.9 234.8L448.9 234.8L442.3 218.4Z" fill="url(#gG)"/>
<path d="M442 266.3L473.2 267.2L473.2 271.4L442 270.4Z" fill="url(#gR)"/>
<path d="M472.8 264.4L472.8 276.2L490.3 270.8Z" fill="url(#gR)"/>
<circle cx="441.8" cy="268.2" r="5.6" fill="url(#gO)"/>
<path d="M432 273.6L440.5 269" stroke="#00008a" stroke-width="4"/>
<circle cx="431.9" cy="273.6" r="5.4" fill="url(#gB)"/>
<g font-size="13" font-weight="bold" fill="#000">
<text x="438.8" y="211.3">b</text>
<text x="497.9" y="275.8">a</text>
<text x="420.8" y="283.4">c</text>
</g>

</svg>
</body></html>
